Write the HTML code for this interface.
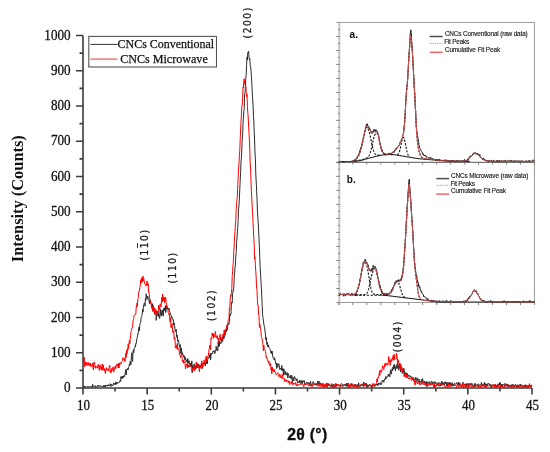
<!DOCTYPE html>
<html><head><meta charset="utf-8"><title>XRD</title>
<style>html,body{margin:0;padding:0;background:#fff;}svg{display:block;}</style>
</head><body>
<svg width="550" height="452" viewBox="0 0 550 452">
<rect width="550" height="452" fill="#fff"/>
<polyline fill="none" stroke="#2b2b2b" stroke-width="1" stroke-linejoin="round" points="83,387.29 83.4,387.68 83.8,387.25 84.2,385.86 84.6,387.7 85,387.32 85.4,386.47 85.8,387.41 86.2,387.21 86.6,387.14 87,386.9 87.4,387.33 87.8,386.22 88.2,386.7 88.6,386.41 89,387.32 89.4,386.83 89.8,386.53 90.2,386.09 90.6,386.53 91,386.75 91.4,386.49 91.8,387.7 92.2,387.58 92.6,384.32 93,385.02 93.4,386.5 93.8,386.27 94.2,386.82 94.6,386.81 95,387.7 95.4,385.6 95.8,386.24 96.2,387.7 96.6,387.12 97,387.12 97.4,386.06 97.8,385.04 98.2,386.65 98.6,386.58 99,385.38 99.4,385.85 99.8,386.38 100.2,385.59 100.6,386.33 101,386.49 101.4,386.42 101.8,385.92 102.2,386.89 102.6,387.15 103,386.61 103.4,385.55 103.8,386.94 104.2,385.79 104.6,387.03 105,385.21 105.4,387.01 105.8,386.11 106.2,384.92 106.6,385.73 107,386.02 107.4,386.16 107.8,384.89 108.2,384.69 108.6,385.87 109,385.15 109.4,385.75 109.8,386.19 110.2,383.71 110.6,385.53 111,386.42 111.4,384.78 111.8,384.15 112.2,385.67 112.6,385.04 113,385.61 113.4,384.17 113.8,382.82 114.2,384.16 114.6,383.65 115,384.86 115.4,384.06 115.8,381.83 116.2,382.13 116.6,384.34 117,383.9 117.4,382.11 117.8,382.63 118.2,382.91 118.6,382.66 119,382.86 119.4,381.71 119.8,380.87 120.2,380.23 120.6,381.61 121,376.52 121.4,379.03 121.8,378.79 122.2,376.11 122.6,378.22 123,376.11 123.4,377.89 123.8,375.66 124.2,376.31 124.6,376.58 125,374.46 125.4,371.52 125.8,369.61 126.2,374.88 126.6,370.72 127,368.89 127.4,369.77 127.8,368.36 128.2,369.69 128.6,367.24 129,366.35 129.4,363.92 129.8,365.51 130.2,361.2 130.6,363.85 131,364.62 131.4,356.29 131.8,352.75 132.2,358.41 132.6,361.41 133,351.81 133.4,349.82 133.8,352.67 134.2,348.04 134.6,347.47 135,346.49 135.4,347.14 135.8,343.56 136.2,343.63 136.6,341.01 137,337.76 137.4,337.1 137.8,333.67 138.2,333.8 138.6,329.1 139,327.06 139.4,330.85 139.8,325.38 140.2,323.38 140.6,322.66 141,318.5 141.4,316.94 141.8,316.5 142.2,314.29 142.6,309.19 143,312.08 143.4,307.17 143.8,304.5 144.2,303.33 144.6,303.04 145,306.31 145.4,298.6 145.8,300.41 146.2,293.78 146.6,297.63 147,299.27 147.4,296.73 147.8,296.02 148.2,298.29 148.6,299.72 149,300.03 149.4,303.62 149.8,300.44 150.2,299.7 150.6,301.98 151,303.36 151.4,304.97 151.8,305.7 152.2,307.06 152.6,303.69 153,310.3 153.4,307.89 153.8,307.29 154.2,312.19 154.6,314.42 155,313.13 155.4,312.96 155.8,311.05 156.2,320.4 156.6,316.39 157,312.27 157.4,313.55 157.8,315.89 158.2,312.34 158.6,316.39 159,314.87 159.4,318.54 159.8,317.62 160.2,308.79 160.6,314.68 161,310.39 161.4,316.2 161.8,313.59 162.2,314.05 162.6,309.87 163,315.98 163.4,315.85 163.8,308.16 164.2,310.88 164.6,307.92 165,308.92 165.4,305.64 165.8,312.53 166.2,305.82 166.6,307.33 167,309.34 167.4,307.07 167.8,308.52 168.2,308.39 168.6,310.04 169,308.31 169.4,310.69 169.8,312.01 170.2,312.61 170.6,314.48 171,314.73 171.4,318.24 171.8,316.93 172.2,318.56 172.6,318.58 173,320.16 173.4,319.75 173.8,325.26 174.2,322.97 174.6,325.5 175,329.7 175.4,331.48 175.8,331.3 176.2,329.19 176.6,336.35 177,337.51 177.4,335.21 177.8,341.78 178.2,339.91 178.6,340.42 179,344.64 179.4,345.35 179.8,347.47 180.2,344.47 180.6,353.44 181,348.96 181.4,347.83 181.8,353.77 182.2,352.46 182.6,354.91 183,354.22 183.4,355.67 183.8,357.16 184.2,355.63 184.6,359.64 185,357.69 185.4,357.42 185.8,360.22 186.2,361.63 186.6,360.6 187,359.64 187.4,363.46 187.8,358.55 188.2,360.61 188.6,363.37 189,360.66 189.4,364.06 189.8,364.22 190.2,366.6 190.6,363.05 191,364.04 191.4,366.43 191.8,360.93 192.2,372.87 192.6,365.28 193,365.49 193.4,368.98 193.8,367.3 194.2,363.85 194.6,368.78 195,369.22 195.4,366.52 195.8,366.81 196.2,368.3 196.6,365.35 197,368.01 197.4,367.41 197.8,365.48 198.2,363.87 198.6,366.16 199,364.68 199.4,368.45 199.8,366.52 200.2,367.69 200.6,366.16 201,366.24 201.4,363.81 201.8,366.68 202.2,368.84 202.6,364.11 203,363.24 203.4,363.92 203.8,362.93 204.2,362.16 204.6,363.69 205,362.39 205.4,365.86 205.8,362.23 206.2,362.52 206.6,363.52 207,360.19 207.4,363.73 207.8,358.52 208.2,357.65 208.6,358.2 209,358.29 209.4,354.84 209.8,357.49 210.2,353.23 210.6,359.75 211,355.85 211.4,354.05 211.8,352.92 212.2,353.62 212.6,353.47 213,351.07 213.4,350.83 213.8,351.99 214.2,350.7 214.6,353.52 215,353.45 215.4,350.34 215.8,350.86 216.2,346.17 216.6,350.18 217,348.12 217.4,348.78 217.8,350.81 218.2,341.34 218.6,346.63 219,342.92 219.4,346.21 219.8,341.23 220.2,342.5 220.6,343.48 221,343.77 221.4,341.87 221.8,339.17 222.2,338.99 222.6,341.53 223,338.67 223.4,333.93 223.8,338.82 224.2,336.87 224.6,336.92 225,333.12 225.4,334.76 225.8,329.39 226.2,332.13 226.6,328.67 227,330.28 227.4,329.9 227.8,324.65 228.2,324.85 228.6,323.48 229,324.26 229.4,321.07 229.8,314.37 230.2,315.83 230.6,313.87 231,314.2 231.4,302.45 231.8,301.95 232.2,303.07 232.6,293.71 233,290.78 233.4,291 233.8,287.6 234.2,277.83 234.6,274.26 235,267.39 235.4,265.01 235.8,255.99 236.2,252.67 236.6,242.5 237,238 237.4,231.69 237.8,227.73 238.2,219.43 238.6,209.19 239,205.22 239.4,198.08 239.8,188.49 240.2,180.41 240.6,172.69 241,161.33 241.4,157.77 241.8,150.07 242.2,139.89 242.6,136.09 243,123.76 243.4,118.25 243.8,111.15 244.2,109.73 244.6,94.61 245,92.52 245.4,86.3 245.8,78.26 246.2,74.13 246.6,64.29 247,57.12 247.4,60.09 247.8,52.42 248.2,52.82 248.6,51.11 249,57.58 249.4,59.31 249.8,58.44 250.2,65.34 250.6,66.88 251,70.44 251.4,76.41 251.8,82.32 252.2,91.32 252.6,97.97 253,103.91 253.4,115.2 253.8,120.23 254.2,131.41 254.6,140.97 255,153.03 255.4,158.66 255.8,174.27 256.2,181.05 256.6,190.22 257,198.45 257.4,209.98 257.8,216.94 258.2,222.19 258.6,229.87 259,238.9 259.4,246.45 259.8,258.62 260.2,267.66 260.6,274.95 261,282.09 261.4,288.24 261.8,296.72 262.2,305.35 262.6,314.75 263,317.88 263.4,319.91 263.8,324.08 264.2,325.75 264.6,327.52 265,331.07 265.4,333.96 265.8,339.66 266.2,337.37 266.6,342.07 267,344.59 267.4,342.17 267.8,347.05 268.2,346.27 268.6,344.87 269,347.59 269.4,348.14 269.8,348.61 270.2,349.7 270.6,351.46 271,353.07 271.4,350.94 271.8,353.82 272.2,351.18 272.6,356.1 273,357.74 273.4,357.46 273.8,358.51 274.2,359.96 274.6,357.81 275,359.5 275.4,361.93 275.8,363.72 276.2,362.99 276.6,368.44 277,363.17 277.4,366.16 277.8,367.3 278.2,364.85 278.6,363.95 279,363.74 279.4,367.06 279.8,369.5 280.2,368.27 280.6,368.55 281,367.93 281.4,370.25 281.8,365.46 282.2,370.5 282.6,370.55 283,368.35 283.4,375.4 283.8,369.21 284.2,370.2 284.6,370.39 285,374.91 285.4,371.73 285.8,374.83 286.2,375.02 286.6,374.78 287,372.43 287.4,373.93 287.8,378.04 288.2,373.4 288.6,374.44 289,375.8 289.4,377.63 289.8,376.98 290.2,378.01 290.6,375.41 291,378.79 291.4,378.44 291.8,375.36 292.2,380.36 292.6,381.69 293,377.32 293.4,378.76 293.8,380.93 294.2,376.94 294.6,376.43 295,377.63 295.4,378.86 295.8,379.03 296.2,380.86 296.6,380.55 297,378.63 297.4,381.27 297.8,383.18 298.2,382.39 298.6,382.24 299,381.08 299.4,382.47 299.8,380.02 300.2,382.38 300.6,381.39 301,383.07 301.4,382.31 301.8,380.43 302.2,382.08 302.6,383.55 303,380.69 303.4,381.5 303.8,381.34 304.2,380.53 304.6,383.64 305,384.14 305.4,383.59 305.8,382.99 306.2,382.71 306.6,383.13 307,382.05 307.4,384.05 307.8,384.29 308.2,384.22 308.6,382.56 309,383.34 309.4,383.11 309.8,385.44 310.2,383.63 310.6,381.3 311,383.98 311.4,385.73 311.8,384.41 312.2,384.68 312.6,383.77 313,381.55 313.4,381.79 313.8,382.48 314.2,383.78 314.6,384.31 315,384.77 315.4,383.67 315.8,385.15 316.2,383.83 316.6,383.4 317,385.15 317.4,383.25 317.8,381.32 318.2,383.17 318.6,384.46 319,381.06 319.4,384.04 319.8,384.1 320.2,382.95 320.6,382.93 321,384.04 321.4,383.98 321.8,385.93 322.2,385.01 322.6,382.96 323,383.75 323.4,385.42 323.8,386.7 324.2,385.13 324.6,385.07 325,386.72 325.4,384.76 325.8,384.48 326.2,383.35 326.6,384.31 327,387.13 327.4,383.41 327.8,384.92 328.2,383.46 328.6,385.07 329,385.88 329.4,384.73 329.8,385.75 330.2,385.75 330.6,385.49 331,386.8 331.4,385.86 331.8,384.76 332.2,384.39 332.6,384.24 333,385.6 333.4,384.8 333.8,387.7 334.2,387.03 334.6,384.95 335,384.85 335.4,386.91 335.8,383.3 336.2,384.76 336.6,386.19 337,384.32 337.4,384.77 337.8,384.9 338.2,385.93 338.6,385.41 339,385.69 339.4,385.89 339.8,385.33 340.2,386.42 340.6,384.58 341,383.88 341.4,383.54 341.8,383.71 342.2,384.78 342.6,386.37 343,385.52 343.4,384.76 343.8,384.29 344.2,384.84 344.6,384.97 345,384.81 345.4,383.96 345.8,384.91 346.2,386.4 346.6,383.24 347,385.16 347.4,383.3 347.8,385.6 348.2,384.68 348.6,383.36 349,385.53 349.4,387.23 349.8,385.55 350.2,386.59 350.6,385.38 351,383.32 351.4,385.94 351.8,385.05 352.2,384.02 352.6,386.24 353,385.75 353.4,384.95 353.8,386.33 354.2,384.62 354.6,386.12 355,384.56 355.4,386.01 355.8,384.4 356.2,386.96 356.6,385.74 357,386.91 357.4,384.69 357.8,385.03 358.2,386.33 358.6,382.8 359,384.45 359.4,386.52 359.8,385.96 360.2,386.46 360.6,385.19 361,386.06 361.4,384.78 361.8,384.15 362.2,383.83 362.6,384.96 363,384.96 363.4,384.88 363.8,382 364.2,383.53 364.6,384.98 365,385.78 365.4,384.93 365.8,384.64 366.2,383.23 366.6,387.49 367,384.42 367.4,387.16 367.8,387.04 368.2,385.77 368.6,384.94 369,385.63 369.4,384.36 369.8,385.76 370.2,385.5 370.6,386.02 371,386.44 371.4,387.21 371.8,385.12 372.2,386.53 372.6,384.71 373,384.59 373.4,384.85 373.8,384.46 374.2,386.37 374.6,386.28 375,386.59 375.4,385.24 375.8,385.49 376.2,384.56 376.6,383.91 377,385.48 377.4,385.23 377.8,383.73 378.2,385.41 378.6,382.86 379,384.37 379.4,383.69 379.8,383.58 380.2,382.7 380.6,384.71 381,383.98 381.4,384.4 381.8,382.8 382.2,380.66 382.6,381.41 383,379.95 383.4,381.69 383.8,382.31 384.2,380.72 384.6,379.03 385,378.94 385.4,379.37 385.8,376.55 386.2,378.49 386.6,378.12 387,376.5 387.4,376.2 387.8,376.64 388.2,374.52 388.6,373.99 389,376.16 389.4,374.74 389.8,376.79 390.2,371.68 390.6,369.8 391,374.25 391.4,373.88 391.8,370.33 392.2,368.49 392.6,370.68 393,366.95 393.4,369.16 393.8,365.1 394.2,368.43 394.6,364.24 395,367.58 395.4,370.74 395.8,366.77 396.2,368.59 396.6,365.41 397,364.67 397.4,363.24 397.8,368.43 398.2,366.1 398.6,369.68 399,364.07 399.4,366.39 399.8,367.45 400.2,370.66 400.6,372.02 401,367.73 401.4,367.45 401.8,366.98 402.2,373.42 402.6,371.32 403,370.81 403.4,372.34 403.8,368.2 404.2,370.04 404.6,375.05 405,374.39 405.4,374.25 405.8,372.56 406.2,375.54 406.6,377.8 407,373.01 407.4,375.33 407.8,374.82 408.2,376.36 408.6,376.02 409,375.98 409.4,375.01 409.8,376.6 410.2,375.86 410.6,376.8 411,377.12 411.4,378.42 411.8,376.7 412.2,377.29 412.6,379.59 413,377.82 413.4,377.94 413.8,379.79 414.2,379.09 414.6,379 415,379.36 415.4,377.42 415.8,380.03 416.2,381.41 416.6,380.51 417,377.67 417.4,380.39 417.8,378.89 418.2,379.97 418.6,380.59 419,378.93 419.4,382.46 419.8,380.69 420.2,381.94 420.6,381.83 421,382.86 421.4,382.73 421.8,379.32 422.2,381.38 422.6,378.63 423,380.89 423.4,382.46 423.8,382.78 424.2,383.33 424.6,381.26 425,382.22 425.4,382 425.8,383.53 426.2,383.99 426.6,381.61 427,386.84 427.4,382.17 427.8,381.78 428.2,383.03 428.6,383.28 429,383.07 429.4,381.65 429.8,384.3 430.2,382.62 430.6,384.47 431,384.34 431.4,381.16 431.8,381.56 432.2,381.59 432.6,383.13 433,382.94 433.4,383.24 433.8,381.99 434.2,383.51 434.6,384.7 435,381.5 435.4,382.88 435.8,383.44 436.2,383.03 436.6,382.99 437,385.32 437.4,384.78 437.8,384.31 438.2,382.46 438.6,385.97 439,383.82 439.4,382.77 439.8,383.07 440.2,382.92 440.6,385.95 441,383.77 441.4,383.63 441.8,381.12 442.2,384.45 442.6,382.42 443,382.37 443.4,384.37 443.8,382.71 444.2,384.66 444.6,385 445,381.73 445.4,383.62 445.8,382.02 446.2,383.74 446.6,384.85 447,382.32 447.4,385.88 447.8,383.53 448.2,382.57 448.6,383.77 449,384.81 449.4,382.41 449.8,383.96 450.2,382.45 450.6,385.33 451,384.18 451.4,383.55 451.8,385.18 452.2,382.63 452.6,383.63 453,386.12 453.4,383.96 453.8,385.6 454.2,384.33 454.6,383.36 455,383.88 455.4,384.24 455.8,383.72 456.2,383.28 456.6,383.34 457,382.59 457.4,384.34 457.8,384.66 458.2,385.06 458.6,382.29 459,385.15 459.4,384.26 459.8,382.74 460.2,384.41 460.6,385.2 461,384.89 461.4,385.12 461.8,385.37 462.2,385.33 462.6,384.33 463,382.14 463.4,383.58 463.8,384.79 464.2,383.91 464.6,385.17 465,385.3 465.4,384.5 465.8,386.48 466.2,383.43 466.6,385.48 467,383.99 467.4,383.67 467.8,385.15 468.2,383.87 468.6,385.46 469,383.31 469.4,384.6 469.8,383.68 470.2,384.34 470.6,384.2 471,383.41 471.4,385.31 471.8,383.31 472.2,383.6 472.6,385.59 473,385.69 473.4,385.38 473.8,385.04 474.2,387.1 474.6,383.43 475,383.94 475.4,383.69 475.8,385.68 476.2,385.05 476.6,385.92 477,385.79 477.4,384.55 477.8,383.94 478.2,383.77 478.6,387.12 479,385.83 479.4,385.45 479.8,384.49 480.2,384.65 480.6,384.51 481,384.54 481.4,382.39 481.8,384.83 482.2,384.51 482.6,385.21 483,385.14 483.4,385.81 483.8,384.93 484.2,385.77 484.6,382.32 485,383.84 485.4,386.76 485.8,383.74 486.2,384.71 486.6,385.73 487,384.11 487.4,385.77 487.8,383.57 488.2,383.08 488.6,383.69 489,383.37 489.4,385.05 489.8,384.75 490.2,385.42 490.6,384.04 491,387.69 491.4,385.02 491.8,385.08 492.2,385.59 492.6,384.89 493,384.51 493.4,385.24 493.8,386.1 494.2,385.85 494.6,386.13 495,384.62 495.4,384.41 495.8,387.23 496.2,384.97 496.6,385.7 497,385.97 497.4,386.67 497.8,383.89 498.2,384.77 498.6,384.83 499,384.97 499.4,382.86 499.8,385.19 500.2,382.39 500.6,385.6 501,385.85 501.4,385.91 501.8,384.12 502.2,386.29 502.6,384.48 503,384.12 503.4,384.38 503.8,384.52 504.2,385.54 504.6,386.2 505,383.29 505.4,384.85 505.8,386.29 506.2,385.61 506.6,385.92 507,383.94 507.4,386.37 507.8,383.89 508.2,385.64 508.6,386.8 509,387.32 509.4,385.97 509.8,386.35 510.2,384.88 510.6,385.02 511,386.65 511.4,385.5 511.8,385.38 512.2,384.13 512.6,385.67 513,386.16 513.4,384.76 513.8,385.05 514.2,387.1 514.6,385.73 515,385.28 515.4,384.46 515.8,384.97 516.2,385.34 516.6,386.93 517,385 517.4,387.35 517.8,384.7 518.2,385.26 518.6,386.44 519,385.39 519.4,384.82 519.8,385.51 520.2,386.08 520.6,383.98 521,385.41 521.4,385.55 521.8,385.27 522.2,386.39 522.6,385.13 523,385.33 523.4,385.73 523.8,386.4 524.2,385.49 524.6,387.17 525,384.83 525.4,386.96 525.8,384.89 526.2,385.57 526.6,386.08 527,387.7 527.4,386.61 527.8,385.36 528.2,387 528.6,385.55 529,385 529.4,386.2 529.8,385.86 530.2,386.69 530.6,385.26 531,386.15 531.4,386.4 531.8,386.06"/>
<polyline fill="none" stroke="#ff0000" stroke-width="1" stroke-linejoin="round" points="83,362.43 83.4,361 83.8,361.43 84.2,357.06 84.6,366.73 85,365.42 85.4,362.32 85.8,364.92 86.2,363.99 86.6,362.31 87,365.83 87.4,363.15 87.8,363.26 88.2,362.4 88.6,365.25 89,364.18 89.4,365.7 89.8,363.33 90.2,365.03 90.6,362.95 91,366.78 91.4,365.49 91.8,365.89 92.2,366.16 92.6,363.23 93,367.13 93.4,369.92 93.8,362.18 94.2,362.08 94.6,362.65 95,367.67 95.4,366.26 95.8,368.33 96.2,367.67 96.6,366.68 97,366.91 97.4,366.05 97.8,368.3 98.2,364.23 98.6,365.79 99,367.26 99.4,370.57 99.8,365.38 100.2,364.83 100.6,366 101,369.26 101.4,366.92 101.8,370.22 102.2,363.86 102.6,370.08 103,370.03 103.4,365.24 103.8,368.54 104.2,370.81 104.6,368.7 105,370.65 105.4,373.51 105.8,369.49 106.2,368.53 106.6,367.7 107,370.6 107.4,369.06 107.8,369.2 108.2,369.44 108.6,370.99 109,367.75 109.4,366.92 109.8,365.24 110.2,372.28 110.6,370.13 111,372.91 111.4,369.95 111.8,368.43 112.2,370.63 112.6,369.35 113,366.79 113.4,367.21 113.8,372.15 114.2,369.01 114.6,368.79 115,367.04 115.4,365.83 115.8,368.74 116.2,366.36 116.6,364.69 117,365.72 117.4,363.85 117.8,365.95 118.2,367.75 118.6,363.37 119,368.03 119.4,363.35 119.8,364.91 120.2,362.55 120.6,363.64 121,363.96 121.4,362.59 121.8,361.64 122.2,361.25 122.6,360.26 123,357.66 123.4,359.66 123.8,360.11 124.2,360.16 124.6,358.48 125,361.65 125.4,355.84 125.8,353.23 126.2,357.77 126.6,350.23 127,353.97 127.4,348.56 127.8,350.44 128.2,343.76 128.6,348.64 129,344.17 129.4,340.08 129.8,343.83 130.2,339.42 130.6,335.56 131,331.5 131.4,330.8 131.8,328.23 132.2,328.08 132.6,326.24 133,321.07 133.4,319.72 133.8,318.23 134.2,314.87 134.6,315.1 135,314.66 135.4,314.73 135.8,314.23 136.2,307.14 136.6,307.89 137,303.15 137.4,306.52 137.8,299.32 138.2,298.29 138.6,292.69 139,290.75 139.4,290.97 139.8,287.53 140.2,286.91 140.6,280.16 141,283.12 141.4,277.8 141.8,282.73 142.2,277.85 142.6,281.29 143,276.05 143.4,280.84 143.8,278.6 144.2,280.78 144.6,283.29 145,283.5 145.4,285.1 145.8,286.12 146.2,285.73 146.6,283.87 147,280.86 147.4,282.78 147.8,285.8 148.2,283.58 148.6,292.57 149,292.45 149.4,294.52 149.8,299.66 150.2,301.49 150.6,302.89 151,302.28 151.4,307.12 151.8,308.48 152.2,306.41 152.6,311.5 153,310.82 153.4,305.6 153.8,310.8 154.2,307.91 154.6,313.67 155,313.11 155.4,308.9 155.8,309.57 156.2,311.98 156.6,311.29 157,315.4 157.4,313.55 157.8,310.8 158.2,312.06 158.6,305.12 159,309.42 159.4,309.58 159.8,306.09 160.2,303.84 160.6,305.49 161,307.24 161.4,301.73 161.8,297.35 162.2,302.2 162.6,293.96 163,299.39 163.4,297.11 163.8,300.93 164.2,297.25 164.6,302.74 165,301.06 165.4,297.2 165.8,297.55 166.2,302.38 166.6,307.16 167,305.77 167.4,307.17 167.8,308.17 168.2,312.19 168.6,313.14 169,314.64 169.4,313.41 169.8,320.11 170.2,322.23 170.6,317.84 171,327.86 171.4,325.98 171.8,324.94 172.2,323.45 172.6,331.15 173,332.74 173.4,331.91 173.8,330.94 174.2,339.36 174.6,337.05 175,338.91 175.4,348.11 175.8,347.98 176.2,346.75 176.6,344.89 177,348.7 177.4,343.12 177.8,349.7 178.2,348.75 178.6,348.52 179,348.79 179.4,354.54 179.8,354.42 180.2,355.44 180.6,357.85 181,354.8 181.4,354.73 181.8,354.31 182.2,358.48 182.6,361.87 183,360.64 183.4,363.28 183.8,359.98 184.2,362.31 184.6,362.31 185,361.8 185.4,368.93 185.8,367.2 186.2,364.2 186.6,364.61 187,366.46 187.4,363.93 187.8,368.08 188.2,364.78 188.6,366.83 189,365.61 189.4,366.76 189.8,365.08 190.2,364.63 190.6,365.89 191,366.51 191.4,367.31 191.8,368.07 192.2,371.03 192.6,369.61 193,367.47 193.4,369.45 193.8,366.61 194.2,370.92 194.6,369.09 195,365.2 195.4,369.38 195.8,369.41 196.2,362.19 196.6,365.98 197,366.4 197.4,363.27 197.8,364.88 198.2,364.97 198.6,367.82 199,367.22 199.4,371.88 199.8,365.38 200.2,368.4 200.6,365.9 201,366.04 201.4,362.71 201.8,360.78 202.2,362.88 202.6,365.79 203,367.13 203.4,364.47 203.8,363.67 204.2,360.04 204.6,364.81 205,363.71 205.4,358.71 205.8,359.12 206.2,356.24 206.6,361.2 207,358.08 207.4,356.23 207.8,356.63 208.2,355.86 208.6,352.91 209,349.79 209.4,348.04 209.8,345.02 210.2,347.95 210.6,349.85 211,338.06 211.4,339.25 211.8,337.44 212.2,333.24 212.6,335.97 213,332.98 213.4,338.26 213.8,334.13 214.2,335.73 214.6,337.07 215,334.51 215.4,331.47 215.8,334.7 216.2,338.19 216.6,336.83 217,338.13 217.4,335.59 217.8,338.69 218.2,340.07 218.6,338.44 219,342.66 219.4,337.68 219.8,335.62 220.2,334.12 220.6,340.29 221,337.29 221.4,339.53 221.8,337.92 222.2,340.12 222.6,338.68 223,334.19 223.4,334.93 223.8,336.03 224.2,329.94 224.6,335.41 225,334.17 225.4,332.93 225.8,329.43 226.2,329.71 226.6,325.43 227,326.92 227.4,323.98 227.8,323.79 228.2,320.42 228.6,319.62 229,318.19 229.4,308.45 229.8,309.49 230.2,298.98 230.6,295.13 231,296.29 231.4,292.59 231.8,288.72 232.2,276.65 232.6,271.78 233,264.94 233.4,260.73 233.8,251.03 234.2,246.02 234.6,236.06 235,231.25 235.4,224.08 235.8,220.16 236.2,209.65 236.6,203.27 237,199.57 237.4,195.17 237.8,184.55 238.2,176.87 238.6,167.83 239,163.6 239.4,154.9 239.8,150.32 240.2,139.62 240.6,129.13 241,122.51 241.4,114.25 241.8,106.68 242.2,105.95 242.6,98.68 243,87.09 243.4,88.01 243.8,81.22 244.2,78.76 244.6,83.52 245,84.72 245.4,85.35 245.8,85.19 246.2,92.7 246.6,96.72 247,94.07 247.4,106.22 247.8,112.52 248.2,117.1 248.6,126.15 249,133.29 249.4,140.13 249.8,150.18 250.2,163.91 250.6,167.7 251,181.8 251.4,191.48 251.8,198.37 252.2,207.16 252.6,212.76 253,221.53 253.4,230.79 253.8,238.59 254.2,242.75 254.6,258.76 255,257.32 255.4,265.79 255.8,271.73 256.2,277.95 256.6,288.27 257,290.31 257.4,300.3 257.8,305.31 258.2,305.43 258.6,315.01 259,315.5 259.4,327.42 259.8,324.25 260.2,326.77 260.6,328 261,332.43 261.4,336.53 261.8,337.75 262.2,339.26 262.6,342.38 263,345.27 263.4,350.73 263.8,345.02 264.2,349.11 264.6,349.53 265,349.5 265.4,351.26 265.8,353.22 266.2,358.03 266.6,356.98 267,357.19 267.4,360.81 267.8,360.99 268.2,360.74 268.6,362.99 269,361.12 269.4,365.14 269.8,365.54 270.2,364.38 270.6,363.4 271,369.77 271.4,367.44 271.8,374.01 272.2,367.1 272.6,370.61 273,368.59 273.4,370.41 273.8,371.99 274.2,369.36 274.6,371.14 275,372.06 275.4,372.4 275.8,373.69 276.2,374.85 276.6,374.89 277,374.26 277.4,373.58 277.8,372.62 278.2,373.66 278.6,374.36 279,376.71 279.4,375.31 279.8,374.22 280.2,377.54 280.6,375.57 281,375.94 281.4,377.07 281.8,378.42 282.2,374.31 282.6,376.56 283,378.76 283.4,378.22 283.8,377.74 284.2,378.47 284.6,381.47 285,379.1 285.4,380.99 285.8,381.33 286.2,379.88 286.6,381.34 287,380.39 287.4,380.42 287.8,380 288.2,382.82 288.6,381.42 289,381.45 289.4,380.96 289.8,384.77 290.2,383.65 290.6,382.79 291,382.31 291.4,381.51 291.8,383.79 292.2,383.92 292.6,382.13 293,385.15 293.4,384.81 293.8,382.97 294.2,383.49 294.6,383.69 295,384.38 295.4,384.07 295.8,382.47 296.2,385.89 296.6,384.65 297,385.7 297.4,385.72 297.8,384.16 298.2,384.77 298.6,385.22 299,385.28 299.4,384.29 299.8,383.83 300.2,384.54 300.6,383.67 301,383.95 301.4,382.4 301.8,384.67 302.2,383.5 302.6,384.02 303,384.57 303.4,384.97 303.8,386.65 304.2,384.88 304.6,383.18 305,384.83 305.4,384.07 305.8,385.13 306.2,384 306.6,383.99 307,384.21 307.4,384.1 307.8,382.86 308.2,384.08 308.6,384.77 309,386.05 309.4,384.5 309.8,384.43 310.2,385.43 310.6,385.4 311,386.51 311.4,385.46 311.8,384.84 312.2,386.26 312.6,386.47 313,384.39 313.4,385.06 313.8,383.16 314.2,384.54 314.6,384.01 315,384.71 315.4,384.45 315.8,384.78 316.2,384.86 316.6,385.48 317,385.22 317.4,384.42 317.8,383.68 318.2,386.29 318.6,386.48 319,384.57 319.4,385.63 319.8,383.5 320.2,383.48 320.6,384.81 321,386.6 321.4,384.04 321.8,384.27 322.2,386.77 322.6,383.22 323,385.81 323.4,385.67 323.8,384.97 324.2,385.39 324.6,387.7 325,384.08 325.4,384.91 325.8,385 326.2,384.56 326.6,383.92 327,386.88 327.4,385.51 327.8,383.54 328.2,384.61 328.6,385.73 329,385.74 329.4,383.9 329.8,385.26 330.2,385.62 330.6,385.76 331,385.77 331.4,383.58 331.8,387.24 332.2,385.62 332.6,387.21 333,387.7 333.4,385.27 333.8,384.22 334.2,386.3 334.6,385.28 335,385.01 335.4,384.45 335.8,387.14 336.2,385.04 336.6,384.1 337,385.04 337.4,384.35 337.8,385.65 338.2,385.08 338.6,384.45 339,386.09 339.4,384.87 339.8,386.21 340.2,386.74 340.6,385.14 341,384.86 341.4,385.7 341.8,386.38 342.2,385.5 342.6,385.64 343,385.47 343.4,385.81 343.8,386.12 344.2,384.8 344.6,385.02 345,385.54 345.4,384.84 345.8,385.63 346.2,386.03 346.6,385.48 347,384.91 347.4,384.73 347.8,387.22 348.2,386.37 348.6,384.4 349,384.67 349.4,387.35 349.8,386.99 350.2,385.63 350.6,386.64 351,384.04 351.4,385.5 351.8,386.23 352.2,383.67 352.6,384.73 353,386.27 353.4,386.61 353.8,384.92 354.2,385.79 354.6,387.08 355,385.12 355.4,384.19 355.8,385.44 356.2,385.11 356.6,386.78 357,385.66 357.4,384.71 357.8,387.7 358.2,385.01 358.6,385.97 359,386.17 359.4,386.27 359.8,385.67 360.2,386.08 360.6,385.43 361,384.1 361.4,385.28 361.8,385.3 362.2,385.32 362.6,385.63 363,384.88 363.4,386.8 363.8,387.04 364.2,383.33 364.6,385.51 365,384.8 365.4,382.93 365.8,385.9 366.2,384.89 366.6,385.13 367,384.86 367.4,386.57 367.8,386.72 368.2,385.77 368.6,386.18 369,385.39 369.4,385.64 369.8,384.77 370.2,385.53 370.6,384.79 371,385.85 371.4,386.29 371.8,385.76 372.2,386.6 372.6,387.7 373,383.27 373.4,385.34 373.8,384.71 374.2,384.76 374.6,383.79 375,385.15 375.4,384.75 375.8,384.1 376.2,383.74 376.6,382.23 377,378.71 377.4,381.99 377.8,379.07 378.2,377.05 378.6,377.85 379,375.18 379.4,371.46 379.8,375.5 380.2,369.83 380.6,371.34 381,370.94 381.4,372.36 381.8,371.22 382.2,368.42 382.6,365.88 383,366.04 383.4,368.67 383.8,369.69 384.2,366.65 384.6,363.71 385,366.92 385.4,363.52 385.8,363.1 386.2,363.04 386.6,364.64 387,363.64 387.4,364.94 387.8,365.33 388.2,363.28 388.6,356.52 389,357.63 389.4,361.54 389.8,360.68 390.2,365.43 390.6,360.03 391,359.37 391.4,361.53 391.8,361.44 392.2,358.11 392.6,359.41 393,355.41 393.4,355.57 393.8,360.34 394.2,354.07 394.6,359.27 395,358.61 395.4,358.77 395.8,359.2 396.2,358.82 396.6,353.28 397,356.77 397.4,358.71 397.8,363.28 398.2,359.73 398.6,361.74 399,363.41 399.4,367.87 399.8,362.92 400.2,364.08 400.6,369.08 401,364.54 401.4,370.31 401.8,369.68 402.2,368.43 402.6,371.36 403,371 403.4,373.66 403.8,374.45 404.2,376.8 404.6,374.62 405,375.19 405.4,374.41 405.8,375.67 406.2,377.73 406.6,373.23 407,377.67 407.4,376.05 407.8,377.27 408.2,377.91 408.6,378.96 409,378.25 409.4,377.53 409.8,378.81 410.2,378.58 410.6,378.48 411,379.3 411.4,380.48 411.8,379.64 412.2,379.88 412.6,378.08 413,379.92 413.4,377.76 413.8,381.51 414.2,379.48 414.6,382.68 415,385.1 415.4,380.84 415.8,383.27 416.2,382.26 416.6,381.23 417,381.06 417.4,382.99 417.8,384.17 418.2,383.04 418.6,380.94 419,381.66 419.4,382.77 419.8,384.75 420.2,383.6 420.6,383.75 421,384.86 421.4,383.3 421.8,383.5 422.2,383.45 422.6,381.7 423,384.29 423.4,384.28 423.8,384.97 424.2,382.59 424.6,383.06 425,385.06 425.4,384.42 425.8,385.63 426.2,383.21 426.6,384.42 427,383.5 427.4,384.62 427.8,383.79 428.2,384.94 428.6,385.56 429,385.16 429.4,382.53 429.8,385.51 430.2,385.02 430.6,383.46 431,383.66 431.4,384.64 431.8,385.27 432.2,384.22 432.6,383.01 433,385.04 433.4,384.95 433.8,387.35 434.2,383.48 434.6,387.48 435,386.69 435.4,385.21 435.8,386.64 436.2,385.04 436.6,385.97 437,384.23 437.4,385.09 437.8,383.98 438.2,383.43 438.6,384.79 439,384.41 439.4,385.68 439.8,386.41 440.2,384.96 440.6,385.21 441,385.36 441.4,383.48 441.8,385.47 442.2,385.23 442.6,385.18 443,384.14 443.4,383.27 443.8,385.02 444.2,385.61 444.6,386.65 445,386.45 445.4,386.79 445.8,385.72 446.2,386.51 446.6,385.17 447,386.01 447.4,386.33 447.8,387.7 448.2,385.67 448.6,384.18 449,386.82 449.4,384.69 449.8,385.42 450.2,385.2 450.6,384.61 451,386.83 451.4,386.11 451.8,384.94 452.2,385.62 452.6,385.14 453,386.17 453.4,385.21 453.8,384.85 454.2,384.98 454.6,385.19 455,385.91 455.4,384.74 455.8,385.56 456.2,386.09 456.6,387.7 457,386.51 457.4,382.8 457.8,385.2 458.2,385.32 458.6,386.02 459,387.24 459.4,386.44 459.8,383.52 460.2,386.04 460.6,385.86 461,386.16 461.4,387.07 461.8,384.73 462.2,386.84 462.6,384.21 463,385.85 463.4,386.17 463.8,387.7 464.2,385.15 464.6,384.21 465,386.49 465.4,385.21 465.8,387.34 466.2,385.18 466.6,385.02 467,387.05 467.4,385.95 467.8,386.83 468.2,384.52 468.6,387.45 469,385.33 469.4,386.67 469.8,384.94 470.2,384.43 470.6,385.66 471,386.08 471.4,387.41 471.8,386.25 472.2,386.6 472.6,386.55 473,387.7 473.4,385.16 473.8,387.13 474.2,385.8 474.6,386.2 475,385.44 475.4,387.05 475.8,384.78 476.2,384.72 476.6,385.78 477,384.88 477.4,386.64 477.8,386.85 478.2,385.28 478.6,386.73 479,385.37 479.4,385.96 479.8,386.01 480.2,387.7 480.6,386.01 481,385.16 481.4,385.16 481.8,387.15 482.2,384.46 482.6,385.59 483,385.68 483.4,383.75 483.8,385.6 484.2,386.98 484.6,386.27 485,385.21 485.4,386.7 485.8,386.54 486.2,387.7 486.6,385.38 487,385.71 487.4,386.11 487.8,385.95 488.2,386.16 488.6,385.99 489,385.44 489.4,384.6 489.8,385.58 490.2,384.81 490.6,385.13 491,385.6 491.4,386.58 491.8,386.9 492.2,385.15 492.6,386.4 493,386.86 493.4,386.07 493.8,384.6 494.2,384.12 494.6,386.86 495,386.97 495.4,386.38 495.8,385.15 496.2,387.47 496.6,387.26 497,386.09 497.4,385.93 497.8,384.33 498.2,386.84 498.6,384.66 499,386.78 499.4,386.82 499.8,386.24 500.2,387.61 500.6,385.86 501,386.71 501.4,386.9 501.8,386.4 502.2,385.78 502.6,387.31 503,386.56 503.4,386 503.8,386.03 504.2,386.3 504.6,387.7 505,386.29 505.4,385.97 505.8,385.22 506.2,385.08 506.6,384.46 507,386.42 507.4,386.23 507.8,385.26 508.2,384.84 508.6,385.91 509,385.73 509.4,384.99 509.8,386.49 510.2,386.35 510.6,386.17 511,386.93 511.4,385.62 511.8,387.47 512.2,385.3 512.6,386.7 513,386.81 513.4,385.99 513.8,386.55 514.2,385.06 514.6,384.86 515,386.05 515.4,385.57 515.8,386.78 516.2,386.27 516.6,386.8 517,386.53 517.4,386.43 517.8,386.33 518.2,385.91 518.6,385.82 519,387.7 519.4,384.64 519.8,386.08 520.2,387.17 520.6,386.64 521,387.54 521.4,386.76 521.8,385.1 522.2,385.96 522.6,384.98 523,387.16 523.4,387.57 523.8,385.86 524.2,386.75 524.6,385.88 525,384.95 525.4,385.85 525.8,384.82 526.2,385.74 526.6,386.45 527,386.92 527.4,387.44 527.8,385.96 528.2,386.47 528.6,386.64 529,386.76 529.4,383.66 529.8,385.55 530.2,386.98 530.6,385.24 531,386.48 531.4,387.01 531.8,384.53"/>
<path d="M83.0,35.5V388.0H532.0 M76,388H83.0 M76,352.75H83.0 M76,317.5H83.0 M76,282.25H83.0 M76,247H83.0 M76,211.75H83.0 M76,176.5H83.0 M76,141.25H83.0 M76,106H83.0 M76,70.75H83.0 M76,35.5H83.0 M79.5,370.38H83.0 M79.5,335.12H83.0 M79.5,299.88H83.0 M79.5,264.62H83.0 M79.5,229.38H83.0 M79.5,194.12H83.0 M79.5,158.88H83.0 M79.5,123.62H83.0 M79.5,88.38H83.0 M79.5,53.12H83.0 M83,388.0V394.6 M147.14,388.0V394.6 M211.29,388.0V394.6 M275.43,388.0V394.6 M339.57,388.0V394.6 M403.71,388.0V394.6 M467.86,388.0V394.6 M532,388.0V394.6 M115.07,388.0V391.4 M179.21,388.0V391.4 M243.36,388.0V391.4 M307.5,388.0V391.4 M371.64,388.0V391.4 M435.79,388.0V391.4 M499.93,388.0V391.4" stroke="#3c3c3c" stroke-width="1.6" fill="none"/>
<g transform="scale(0.9,1)">
<text x="78.44" y="392.1" text-anchor="end" font-family="Liberation Serif, serif" font-size="14.6" fill="#111" stroke="#111" stroke-width="0.3">0</text>
<text x="78.44" y="356.85" text-anchor="end" font-family="Liberation Serif, serif" font-size="14.6" fill="#111" stroke="#111" stroke-width="0.3">100</text>
<text x="78.44" y="321.6" text-anchor="end" font-family="Liberation Serif, serif" font-size="14.6" fill="#111" stroke="#111" stroke-width="0.3">200</text>
<text x="78.44" y="286.35" text-anchor="end" font-family="Liberation Serif, serif" font-size="14.6" fill="#111" stroke="#111" stroke-width="0.3">300</text>
<text x="78.44" y="251.1" text-anchor="end" font-family="Liberation Serif, serif" font-size="14.6" fill="#111" stroke="#111" stroke-width="0.3">400</text>
<text x="78.44" y="215.85" text-anchor="end" font-family="Liberation Serif, serif" font-size="14.6" fill="#111" stroke="#111" stroke-width="0.3">500</text>
<text x="78.44" y="180.6" text-anchor="end" font-family="Liberation Serif, serif" font-size="14.6" fill="#111" stroke="#111" stroke-width="0.3">600</text>
<text x="78.44" y="145.35" text-anchor="end" font-family="Liberation Serif, serif" font-size="14.6" fill="#111" stroke="#111" stroke-width="0.3">700</text>
<text x="78.44" y="110.1" text-anchor="end" font-family="Liberation Serif, serif" font-size="14.6" fill="#111" stroke="#111" stroke-width="0.3">800</text>
<text x="78.44" y="74.85" text-anchor="end" font-family="Liberation Serif, serif" font-size="14.6" fill="#111" stroke="#111" stroke-width="0.3">900</text>
<text x="78.44" y="39.6" text-anchor="end" font-family="Liberation Serif, serif" font-size="14.6" fill="#111" stroke="#111" stroke-width="0.3">1000</text>
</g>
<g transform="scale(0.86,1)">
<text x="97.21" y="409.8" text-anchor="middle" font-family="Liberation Serif, serif" font-size="15.1" fill="#111" stroke="#111" stroke-width="0.3">10</text>
<text x="171.79" y="409.8" text-anchor="middle" font-family="Liberation Serif, serif" font-size="15.1" fill="#111" stroke="#111" stroke-width="0.3">15</text>
<text x="246.38" y="409.8" text-anchor="middle" font-family="Liberation Serif, serif" font-size="15.1" fill="#111" stroke="#111" stroke-width="0.3">20</text>
<text x="320.96" y="409.8" text-anchor="middle" font-family="Liberation Serif, serif" font-size="15.1" fill="#111" stroke="#111" stroke-width="0.3">25</text>
<text x="395.55" y="409.8" text-anchor="middle" font-family="Liberation Serif, serif" font-size="15.1" fill="#111" stroke="#111" stroke-width="0.3">30</text>
<text x="470.13" y="409.8" text-anchor="middle" font-family="Liberation Serif, serif" font-size="15.1" fill="#111" stroke="#111" stroke-width="0.3">35</text>
<text x="544.72" y="409.8" text-anchor="middle" font-family="Liberation Serif, serif" font-size="15.1" fill="#111" stroke="#111" stroke-width="0.3">40</text>
<text x="619.3" y="409.8" text-anchor="middle" font-family="Liberation Serif, serif" font-size="15.1" fill="#111" stroke="#111" stroke-width="0.3">45</text>
</g>
<text transform="translate(22.7,262.2) rotate(-90)" x="0" y="0" font-family="Liberation Serif, serif" font-weight="bold" font-size="16.6" fill="#111" textLength="127" lengthAdjust="spacingAndGlyphs">Intensity (Counts)</text>
<text x="287.2" y="439.8" font-family="Liberation Sans, sans-serif" font-weight="bold" font-size="15.8" fill="#111" stroke="#111" stroke-width="0.35" textLength="40" lengthAdjust="spacing">2θ (°)</text>
<rect x="88.8" y="36.4" width="127.7" height="30.6" fill="none" stroke="#555" stroke-width="1.1"/>
<line x1="90.4" y1="44.4" x2="117.5" y2="44.4" stroke="#333" stroke-width="1"/>
<line x1="90.4" y1="59.1" x2="117.5" y2="59.1" stroke="#f07f7f" stroke-width="1.6"/>
<text x="117.6" y="48.4" font-family="Liberation Serif, serif" font-size="12.5" fill="#111" stroke="#111" stroke-width="0.25" textLength="96.6" lengthAdjust="spacingAndGlyphs">CNCs Conventional</text>
<text x="120.2" y="62.7" font-family="Liberation Serif, serif" font-size="12.5" fill="#111" stroke="#111" stroke-width="0.25" textLength="87.6" lengthAdjust="spacingAndGlyphs">CNCs Microwave</text>
<text transform="translate(147.6,260.6) rotate(-90)" font-family="DejaVu Sans Condensed, DejaVu Sans, sans-serif" font-stretch="condensed" font-size="10.1" fill="#1a1a1a" stroke="#1a1a1a" stroke-width="0.25" lengthAdjust="spacing" textLength="30.6">(110)</text>
<text transform="translate(144.6,245.6) rotate(-90)" text-anchor="middle" font-family="DejaVu Sans Condensed, DejaVu Sans, sans-serif" font-stretch="condensed" font-size="10.1" fill="#1a1a1a" stroke="#1a1a1a" stroke-width="0.25">&#x203E;</text>
<text transform="translate(175.9,283.5) rotate(-90)" font-family="DejaVu Sans Condensed, DejaVu Sans, sans-serif" font-stretch="condensed" font-size="10.1" fill="#1a1a1a" stroke="#1a1a1a" stroke-width="0.25" lengthAdjust="spacing" textLength="30.6">(110)</text>
<text transform="translate(214.6,321) rotate(-90)" font-family="DejaVu Sans Condensed, DejaVu Sans, sans-serif" font-stretch="condensed" font-size="10.1" fill="#1a1a1a" stroke="#1a1a1a" stroke-width="0.25" lengthAdjust="spacing" textLength="30.6">(102)</text>
<text transform="translate(251.2,38.4) rotate(-90)" font-family="DejaVu Sans Condensed, DejaVu Sans, sans-serif" font-stretch="condensed" font-size="10.1" fill="#1a1a1a" stroke="#1a1a1a" stroke-width="0.25" lengthAdjust="spacing" textLength="30.6">(200)</text>
<text transform="translate(401.1,352.3) rotate(-90)" font-family="DejaVu Sans Condensed, DejaVu Sans, sans-serif" font-stretch="condensed" font-size="10.1" fill="#1a1a1a" stroke="#1a1a1a" stroke-width="0.25" lengthAdjust="spacing" textLength="30.6">(004)</text>
<rect x="338.9" y="22.5" width="195.5" height="280.0" fill="#fff"/>
<line x1="339.3" y1="22.5" x2="339.3" y2="305" stroke="#c4c4c4" stroke-width="2"/>
<line x1="336.1" y1="22.4" x2="534.4" y2="22.4" stroke="#9a9a9a" stroke-width="1"/>
<line x1="534.4" y1="22.4" x2="534.4" y2="302.5" stroke="#9a9a9a" stroke-width="1"/>
<line x1="336.1" y1="162.3" x2="534.4" y2="162.3" stroke="#555" stroke-width="1"/>
<line x1="336.1" y1="302.5" x2="534.4" y2="302.5" stroke="#9a9a9a" stroke-width="1"/>
<path d="M338.9,162.3v2.3 M338.9,302.5v2.6 M352.86,162.3v2.3 M352.86,302.5v2.6 M366.83,162.3v2.3 M366.83,302.5v2.6 M380.79,162.3v2.3 M380.79,302.5v2.6 M394.76,162.3v2.3 M394.76,302.5v2.6 M408.72,162.3v2.3 M408.72,302.5v2.6 M422.69,162.3v2.3 M422.69,302.5v2.6 M436.65,162.3v2.3 M436.65,302.5v2.6 M450.61,162.3v2.3 M450.61,302.5v2.6 M464.58,162.3v2.3 M464.58,302.5v2.6 M478.54,162.3v2.3 M478.54,302.5v2.6 M492.51,162.3v2.3 M492.51,302.5v2.6 M506.47,162.3v2.3 M506.47,302.5v2.6 M520.44,162.3v2.3 M520.44,302.5v2.6 M534.4,162.3v2.3 M534.4,302.5v2.6 M337.9,29.49H339.6 M337.9,169.31H339.6 M336.2,36.48H339.6 M336.2,176.32H339.6 M337.9,43.47H339.6 M337.9,183.33H339.6 M336.2,50.46H339.6 M336.2,190.34H339.6 M337.9,57.45H339.6 M337.9,197.35H339.6 M336.2,64.44H339.6 M336.2,204.36H339.6 M337.9,71.43H339.6 M337.9,211.37H339.6 M336.2,78.42H339.6 M336.2,218.38H339.6 M337.9,85.41H339.6 M337.9,225.39H339.6 M336.2,92.4H339.6 M336.2,232.4H339.6 M337.9,99.39H339.6 M337.9,239.41H339.6 M336.2,106.38H339.6 M336.2,246.42H339.6 M337.9,113.37H339.6 M337.9,253.43H339.6 M336.2,120.36H339.6 M336.2,260.44H339.6 M337.9,127.35H339.6 M337.9,267.45H339.6 M336.2,134.34H339.6 M336.2,274.46H339.6 M337.9,141.33H339.6 M337.9,281.47H339.6 M336.2,148.32H339.6 M336.2,288.48H339.6 M337.9,155.31H339.6 M337.9,295.49H339.6" stroke="#666" stroke-width="0.8" fill="none"/>
<polyline fill="none" stroke="#2a2a2a" stroke-width="1.1" points="351.15,161.5 351.4,161.5 351.65,161.5 351.9,161.5 352.15,161.49 352.4,161.49 352.65,161.48 352.9,161.47 353.15,161.46 353.4,161.44 353.65,161.42 353.9,161.41 354.15,161.39 354.4,161.36 354.65,161.34 354.9,161.31 355.15,161.29 355.4,161.26 355.65,161.23 355.9,161.2 356.15,161.17 356.4,161.14 356.65,161.1 356.9,161.07 357.15,161.03 357.4,161 357.65,160.96 357.9,160.92 358.15,160.89 358.4,160.85 358.65,160.81 358.9,160.77 359.15,160.73 359.4,160.69 359.65,160.65 359.9,160.62 360.15,160.58 360.4,160.53 360.65,160.49 360.9,160.44 361.15,160.38 361.4,160.33 361.65,160.27 361.9,160.2 362.15,160.14 362.4,160.07 362.65,160 362.9,159.93 363.15,159.86 363.4,159.79 363.65,159.71 363.9,159.64 364.15,159.56 364.4,159.49 364.65,159.41 364.9,159.33 365.15,159.26 365.4,159.18 365.65,159.11 365.9,159.03 366.15,158.96 366.4,158.89 366.65,158.82 366.9,158.75 367.15,158.69 367.4,158.62 367.65,158.56 367.9,158.49 368.15,158.42 368.4,158.36 368.65,158.29 368.9,158.22 369.15,158.15 369.4,158.09 369.65,158.02 369.9,157.95 370.15,157.88 370.4,157.81 370.65,157.75 370.9,157.68 371.15,157.61 371.4,157.54 371.65,157.47 371.9,157.41 372.15,157.34 372.4,157.27 372.65,157.21 372.9,157.14 373.15,157.08 373.4,157.01 373.65,156.95 373.9,156.88 374.15,156.82 374.4,156.76 374.65,156.69 374.9,156.63 375.15,156.57 375.4,156.51 375.65,156.45 375.9,156.39 376.15,156.33 376.4,156.28 376.65,156.22 376.9,156.17 377.15,156.11 377.4,156.06 377.65,156.01 377.9,155.96 378.15,155.91 378.4,155.86 378.65,155.81 378.9,155.76 379.15,155.71 379.4,155.66 379.65,155.6 379.9,155.55 380.15,155.5 380.4,155.44 380.65,155.39 380.9,155.33 381.15,155.28 381.4,155.23 381.65,155.18 381.9,155.13 382.15,155.07 382.4,155.03 382.65,154.98 382.9,154.93 383.15,154.89 383.4,154.84 383.65,154.8 383.9,154.76 384.15,154.72 384.4,154.69 384.65,154.66 384.9,154.63 385.15,154.6 385.4,154.58 385.65,154.55 385.9,154.54 386.15,154.52 386.4,154.51 386.65,154.5 386.9,154.5 387.15,154.5 387.4,154.5 387.65,154.5 387.9,154.5 388.15,154.51 388.4,154.51 388.65,154.52 388.9,154.52 389.15,154.53 389.4,154.53 389.65,154.54 389.9,154.54 390.15,154.55 390.4,154.56 390.65,154.57 390.9,154.58 391.15,154.59 391.4,154.6 391.65,154.61 391.9,154.62 392.15,154.63 392.4,154.64 392.65,154.65 392.9,154.66 393.15,154.67 393.4,154.69 393.65,154.7 393.9,154.71 394.15,154.73 394.4,154.75 394.65,154.77 394.9,154.8 395.15,154.82 395.4,154.85 395.65,154.89 395.9,154.92 396.15,154.96 396.4,155 396.65,155.04 396.9,155.08 397.15,155.12 397.4,155.16 397.65,155.2 397.9,155.25 398.15,155.29 398.4,155.33 398.65,155.38 398.9,155.42 399.15,155.46 399.4,155.5 399.65,155.54 399.9,155.58 400.15,155.62 400.4,155.66 400.65,155.7 400.9,155.74 401.15,155.78 401.4,155.82 401.65,155.86 401.9,155.91 402.15,155.95 402.4,155.99 402.65,156.03 402.9,156.08 403.15,156.12 403.4,156.16 403.65,156.21 403.9,156.25 404.15,156.29 404.4,156.34 404.65,156.38 404.9,156.43 405.15,156.47 405.4,156.51 405.65,156.56 405.9,156.6 406.15,156.65 406.4,156.69 406.65,156.73 406.9,156.78 407.15,156.82 407.4,156.87 407.65,156.91 407.9,156.95 408.15,156.99 408.4,157.04 408.65,157.08 408.9,157.12 409.15,157.16 409.4,157.2 409.65,157.24 409.9,157.28 410.15,157.32 410.4,157.36 410.65,157.4 410.9,157.45 411.15,157.49 411.4,157.53 411.65,157.57 411.9,157.61 412.15,157.65 412.4,157.69 412.65,157.73 412.9,157.77 413.15,157.82 413.4,157.86 413.65,157.9 413.9,157.94 414.15,157.98 414.4,158.02 414.65,158.06 414.9,158.1 415.15,158.14 415.4,158.18 415.65,158.22 415.9,158.26 416.15,158.29 416.4,158.33 416.65,158.37 416.9,158.41 417.15,158.44 417.4,158.48 417.65,158.51 417.9,158.55 418.15,158.58 418.4,158.61 418.65,158.64 418.9,158.67 419.15,158.7 419.4,158.73 419.65,158.76 419.9,158.79 420.15,158.82 420.4,158.84 420.65,158.87 420.9,158.89 421.15,158.92 421.4,158.94 421.65,158.97 421.9,158.99 422.15,159.02 422.4,159.04 422.65,159.06 422.9,159.09 423.15,159.11 423.4,159.13 423.65,159.16 423.9,159.18 424.15,159.2 424.4,159.22 424.65,159.24 424.9,159.26 425.15,159.28 425.4,159.3 425.65,159.33 425.9,159.35 426.15,159.37 426.4,159.39 426.65,159.41 426.9,159.42 427.15,159.44 427.4,159.46 427.65,159.48 427.9,159.5 428.15,159.52 428.4,159.54 428.65,159.56 428.9,159.58 429.15,159.59 429.4,159.61 429.65,159.63 429.9,159.65 430.15,159.67 430.4,159.68 430.65,159.7 430.9,159.72 431.15,159.74 431.4,159.75 431.65,159.77 431.9,159.79 432.15,159.8 432.4,159.82 432.65,159.84 432.9,159.86 433.15,159.87 433.4,159.89 433.65,159.91 433.9,159.92 434.15,159.94 434.4,159.96 434.65,159.98 434.9,159.99 435.15,160.01 435.4,160.03 435.65,160.04 435.9,160.06 436.15,160.08 436.4,160.1 436.65,160.11 436.9,160.13 437.15,160.15 437.4,160.17 437.65,160.18 437.9,160.2 438.15,160.22 438.4,160.24 438.65,160.25 438.9,160.27 439.15,160.29 439.4,160.3 439.65,160.32 439.9,160.34 440.15,160.36 440.4,160.37 440.65,160.39 440.9,160.41 441.15,160.42 441.4,160.44 441.65,160.46 441.9,160.47 442.15,160.49 442.4,160.5 442.65,160.52 442.9,160.54 443.15,160.55 443.4,160.57 443.65,160.58 443.9,160.6 444.15,160.61 444.4,160.63 444.65,160.64 444.9,160.66 445.15,160.67 445.4,160.69 445.65,160.7 445.9,160.71 446.15,160.73 446.4,160.74 446.65,160.75 446.9,160.77 447.15,160.78 447.4,160.79 447.65,160.8 447.9,160.81 448.15,160.82 448.4,160.84 448.65,160.85 448.9,160.86 449.15,160.87 449.4,160.88 449.65,160.89 449.9,160.9 450.15,160.91 450.4,160.91 450.65,160.92 450.9,160.93 451.15,160.94 451.4,160.95 451.65,160.96 451.9,160.97 452.15,160.98 452.4,160.99 452.65,160.99 452.9,161 453.15,161.01 453.4,161.02 453.65,161.03 453.9,161.04 454.15,161.05 454.4,161.06 454.65,161.06 454.9,161.07 455.15,161.08 455.4,161.09 455.65,161.1 455.9,161.11 456.15,161.11 456.4,161.12 456.65,161.13 456.9,161.14 457.15,161.15 457.4,161.15 457.65,161.16 457.9,161.17 458.15,161.18 458.4,161.19 458.65,161.19 458.9,161.2 459.15,161.21 459.4,161.21 459.65,161.22 459.9,161.23 460.15,161.24 460.4,161.24 460.65,161.25 460.9,161.26 461.15,161.26 461.4,161.27 461.65,161.27 461.9,161.28 462.15,161.29 462.4,161.29 462.65,161.3 462.9,161.3 463.15,161.31 463.4,161.31 463.65,161.32 463.9,161.33 464.15,161.33 464.4,161.33 464.65,161.34 464.9,161.34 465.15,161.35 465.4,161.35 465.65,161.36 465.9,161.36 466.15,161.36 466.4,161.37 466.65,161.37 466.9,161.37 467.15,161.38 467.4,161.38 467.65,161.38 467.9,161.39 468.15,161.39 468.4,161.39 468.65,161.39 468.9,161.39 469.15,161.4 469.4,161.4 469.65,161.4 469.9,161.4"/>
<polyline fill="none" stroke="#2a2a2a" stroke-width="1.1" points="383.15,295.3 383.4,295.3 383.65,295.3 383.9,295.3 384.15,295.3 384.4,295.3 384.65,295.3 384.9,295.3 385.15,295.32 385.4,295.35 385.65,295.38 385.9,295.41 386.15,295.44 386.4,295.47 386.65,295.5 386.9,295.54 387.15,295.57 387.4,295.6 387.65,295.63 387.9,295.66 388.15,295.69 388.4,295.72 388.65,295.75 388.9,295.78 389.15,295.81 389.4,295.85 389.65,295.88 389.9,295.91 390.15,295.94 390.4,295.97 390.65,296 390.9,296.03 391.15,296.06 391.4,296.09 391.65,296.12 391.9,296.16 392.15,296.19 392.4,296.22 392.65,296.25 392.9,296.28 393.15,296.31 393.4,296.34 393.65,296.37 393.9,296.4 394.15,296.43 394.4,296.47 394.65,296.5 394.9,296.53 395.15,296.56 395.4,296.59 395.65,296.62 395.9,296.65 396.15,296.68 396.4,296.71 396.65,296.74 396.9,296.78 397.15,296.81 397.4,296.84 397.65,296.87 397.9,296.9 398.15,296.93 398.4,296.96 398.65,296.99 398.9,297.02 399.15,297.05 399.4,297.09 399.65,297.12 399.9,297.15 400.15,297.18 400.4,297.21 400.65,297.24 400.9,297.27 401.15,297.3 401.4,297.33 401.65,297.36 401.9,297.4 402.15,297.43 402.4,297.46 402.65,297.49 402.9,297.52 403.15,297.55 403.4,297.58 403.65,297.61 403.9,297.64 404.15,297.67 404.4,297.71 404.65,297.74 404.9,297.77 405.15,297.8 405.4,297.83 405.65,297.86 405.9,297.89 406.15,297.92 406.4,297.95 406.65,297.98 406.9,298.02 407.15,298.05 407.4,298.08 407.65,298.11 407.9,298.14 408.15,298.17 408.4,298.2 408.65,298.23 408.9,298.26 409.15,298.29 409.4,298.33 409.65,298.36 409.9,298.39 410.15,298.42 410.4,298.45 410.65,298.48 410.9,298.51 411.15,298.54 411.4,298.57 411.65,298.6 411.9,298.64 412.15,298.67 412.4,298.7 412.65,298.73 412.9,298.76 413.15,298.79 413.4,298.82 413.65,298.85 413.9,298.88 414.15,298.91 414.4,298.95 414.65,298.98 414.9,299.01 415.15,299.04 415.4,299.07 415.65,299.1 415.9,299.13 416.15,299.16 416.4,299.19 416.65,299.22 416.9,299.26 417.15,299.29 417.4,299.32 417.65,299.35 417.9,299.38 418.15,299.41 418.4,299.44 418.65,299.47 418.9,299.5 419.15,299.53 419.4,299.57 419.65,299.6 419.9,299.63 420.15,299.66 420.4,299.69 420.65,299.72 420.9,299.75 421.15,299.78 421.4,299.81 421.65,299.84 421.9,299.88 422.15,299.91 422.4,299.94 422.65,299.97 422.9,300 423.15,300.03 423.4,300.06 423.65,300.09 423.9,300.12 424.15,300.15 424.4,300.19 424.65,300.22 424.9,300.25 425.15,300.28 425.4,300.31 425.65,300.34 425.9,300.37 426.15,300.4 426.4,300.43 426.65,300.46 426.9,300.5 427.15,300.53 427.4,300.56 427.65,300.59 427.9,300.62 428.15,300.65 428.4,300.68 428.65,300.71 428.9,300.74 429.15,300.77 429.4,300.81 429.65,300.84 429.9,300.87 430.15,300.9 430.4,300.93 430.65,300.96 430.9,300.99 431.15,301.02 431.4,301.05 431.65,301.08 431.9,301.12 432.15,301.15 432.4,301.18 432.65,301.21 432.9,301.24 433.15,301.27 433.4,301.3 433.65,301.33 433.9,301.36 434.15,301.39 434.4,301.43 434.65,301.46 434.9,301.49 435.15,301.52 435.4,301.55 435.65,301.58 435.9,301.61 436.15,301.64 436.4,301.67 436.65,301.7 436.9,301.74 437.15,301.77 437.4,301.8 437.65,301.83 437.9,301.86 438.15,301.89 438.4,301.92 438.65,301.95 438.9,301.98 439.15,302 439.4,302 439.65,302 439.9,302 440.15,302 440.4,302 440.65,302 440.9,302 441.15,302 441.4,302 441.65,302 441.9,302 442.15,302 442.4,302 442.65,302 442.9,302 443.15,302 443.4,302 443.65,302 443.9,302 444.15,302 444.4,302 444.65,302 444.9,302 445.15,302 445.4,302 445.65,302 445.9,302 446.15,302 446.4,302 446.65,302 446.9,302 447.15,302 447.4,302 447.65,302 447.9,302 448.15,302 448.4,302 448.65,302 448.9,302 449.15,302 449.4,302 449.65,302 449.9,302 450.15,302 450.4,302 450.65,302 450.9,302 451.15,302 451.4,302 451.65,302 451.9,302 452.15,302 452.4,302 452.65,302 452.9,302 453.15,302 453.4,302 453.65,302 453.9,302 454.15,302 454.4,302 454.65,302 454.9,302 455.15,302 455.4,302 455.65,302 455.9,302 456.15,302 456.4,302 456.65,302 456.9,302 457.15,302 457.4,302 457.65,302 457.9,302 458.15,302 458.4,302 458.65,302 458.9,302 459.15,302 459.4,302 459.65,302 459.9,302 460.15,302 460.4,302 460.65,302 460.9,302 461.15,302 461.4,302 461.65,302 461.9,302 462.15,302 462.4,302 462.65,302 462.9,302 463.15,302 463.4,302 463.65,302 463.9,302 464.15,302 464.4,302 464.65,302 464.9,302 465.15,302 465.4,302 465.65,302 465.9,302 466.15,302 466.4,302 466.65,302 466.9,302 467.15,302 467.4,302 467.65,302 467.9,302 468.15,302 468.4,302 468.65,302 468.9,302 469.15,302 469.4,302 469.65,302 469.9,302 470.15,302 470.4,302 470.65,302 470.9,302 471.15,302 471.4,302 471.65,302 471.9,302 472.15,302 472.4,302 472.65,302 472.9,302 473.15,302 473.4,302 473.65,302 473.9,302 474.15,302 474.4,302 474.65,302 474.9,302 475.15,302 475.4,302 475.65,302 475.9,302 476.15,302 476.4,302 476.65,302 476.9,302 477.15,302 477.4,302 477.65,302 477.9,302 478.15,302 478.4,302 478.65,302 478.9,302 479.15,302 479.4,302 479.65,302 479.9,302 480.15,302 480.4,302 480.65,302 480.9,302 481.15,302 481.4,302 481.65,302 481.9,302 482.15,302 482.4,302 482.65,302 482.9,302 483.15,302 483.4,302 483.65,302 483.9,302 484.15,302 484.4,302 484.65,302 484.9,302 485.15,302 485.4,302 485.65,302 485.9,302 486.15,302 486.4,302 486.65,302 486.9,302 487.15,302 487.4,302 487.65,302 487.9,302 488.15,302 488.4,302 488.65,302 488.9,302 489.15,302 489.4,302 489.65,302 489.9,302 490.15,302 490.4,302 490.65,302 490.9,302 491.15,302 491.4,302 491.65,302 491.9,302 492.15,302 492.4,302 492.65,302 492.9,302 493.15,302 493.4,302 493.65,302 493.9,302 494.15,302 494.4,302 494.65,302 494.9,302 495.15,302 495.4,302 495.65,302 495.9,302 496.15,302 496.4,302 496.65,302 496.9,302 497.15,302 497.4,302 497.65,302 497.9,302 498.15,302 498.4,302 498.65,302 498.9,302 499.15,302 499.4,302 499.65,302 499.9,302 500.15,302 500.4,302 500.65,302 500.9,302 501.15,302 501.4,302 501.65,302 501.9,302 502.15,302 502.4,302 502.65,302 502.9,302 503.15,302 503.4,302 503.65,302 503.9,302 504.15,302 504.4,302 504.65,302 504.9,302 505.15,302 505.4,302 505.65,302 505.9,302 506.15,302 506.4,302 506.65,302 506.9,302 507.15,302 507.4,302 507.65,302 507.9,302 508.15,302 508.4,302 508.65,302 508.9,302 509.15,302 509.4,302 509.65,302 509.9,302 510.15,302 510.4,302 510.65,302 510.9,302 511.15,302 511.4,302 511.65,302 511.9,302 512.15,302 512.4,302 512.65,302 512.9,302 513.15,302 513.4,302 513.65,302 513.9,302 514.15,302 514.4,302 514.65,302 514.9,302 515.15,302 515.4,302 515.65,302 515.9,302 516.15,302 516.4,302 516.65,302 516.9,302 517.15,302 517.4,302 517.65,302 517.9,302 518.15,302 518.4,302 518.65,302 518.9,302 519.15,302 519.4,302 519.65,302 519.9,302 520.15,302 520.4,302 520.65,302 520.9,302 521.15,302 521.4,302 521.65,302 521.9,302 522.15,302 522.4,302 522.65,302 522.9,302 523.15,302 523.4,302 523.65,302 523.9,302 524.15,302 524.4,302 524.65,302 524.9,302 525.15,302 525.4,302 525.65,302 525.9,302 526.15,302 526.4,302 526.65,302 526.9,302 527.15,302 527.4,302 527.65,302 527.9,302 528.15,302 528.4,302 528.65,302 528.9,302 529.15,302 529.4,302 529.65,302 529.9,302 530.15,302 530.4,302 530.65,302 530.9,302 531.15,302 531.4,302 531.65,302 531.9,302 532.15,302 532.4,302 532.65,302 532.9,302 533.15,302 533.4,302 533.65,302 533.9,302 534.15,302 534.4,302"/>
<line x1="355" y1="295.3" x2="385" y2="295.3" stroke="#1a1a1a" stroke-width="1.1" stroke-dasharray="2.4,1.5"/>
<polyline fill="none" stroke="#222" stroke-width="1.0" points="338.9,161.37 339.15,161.95 339.4,161.66 339.65,161.48 339.9,161.87 340.15,161.67 340.4,161.51 340.65,161.48 340.9,161.96 341.15,161.36 341.4,161.61 341.65,161.59 341.9,161.8 342.15,161.62 342.4,162.44 342.65,161.08 342.9,161.89 343.15,161.68 343.4,162.08 343.65,161.12 343.9,162.11 344.15,161.2 344.4,161.93 344.65,161.87 344.9,161.7 345.15,161.43 345.4,161.4 345.65,161.72 345.9,161.42 346.15,161 346.4,161.05 346.65,161.97 346.9,161.97 347.15,161.87 347.4,161.7 347.65,161.82 347.9,161.86 348.15,161.78 348.4,161.41 348.65,161.43 348.9,161.29 349.15,161.74 349.4,161.34 349.65,161.64 349.9,162.15 350.15,161.56 350.4,162.03 350.65,162.24 350.9,161.05 351.15,161.19 351.4,161.86 351.65,161.45 351.9,161.88 352.15,160.72 352.4,161.08 352.65,160.7 352.9,161.87 353.15,161.26 353.4,162.1 353.65,161.01 353.9,160.95 354.15,160.7 354.4,159.78 354.65,159.79 354.9,160.45 355.15,159.28 355.4,159.4 355.65,159.05 355.9,159.16 356.15,158.39 356.4,158.29 356.65,158.16 356.9,157.87 357.15,156.83 357.4,157.45 357.65,156 357.9,155.56 358.15,155.2 358.4,155.59 358.65,154.8 358.9,153.82 359.15,152.79 359.4,153.33 359.65,151.59 359.9,150.39 360.15,151.2 360.4,149.35 360.65,149.09 360.9,147.13 361.15,147.36 361.4,146.73 361.65,146.41 361.9,144.29 362.15,142.48 362.4,141.52 362.65,140.85 362.9,140.14 363.15,138.44 363.4,136.93 363.65,135.89 363.9,135.53 364.15,134.24 364.4,133.51 364.65,131.32 364.9,131.22 365.15,130.52 365.4,129.22 365.65,126.69 365.9,126.26 366.15,125.91 366.4,124.28 366.65,125.46 366.9,125.3 367.15,125.25 367.4,123.78 367.65,125.74 367.9,125.52 368.15,127.6 368.4,126.93 368.65,126.48 368.9,127.67 369.15,127.46 369.4,129 369.65,129.51 369.9,128.48 370.15,129.25 370.4,130.32 370.65,131.02 370.9,131.07 371.15,132.3 371.4,132.97 371.65,131.35 371.9,132.6 372.15,133.43 372.4,132.09 372.65,132.91 372.9,132.19 373.15,130.81 373.4,131.8 373.65,129.94 373.9,129.51 374.15,130.51 374.4,130.67 374.65,129.56 374.9,130.44 375.15,129.99 375.4,132.33 375.65,131.48 375.9,129.56 376.15,130.68 376.4,130.61 376.65,130.29 376.9,131.19 377.15,131.22 377.4,132.05 377.65,131.74 377.9,133.6 378.15,134.38 378.4,135.26 378.65,135.49 378.9,137.33 379.15,138.49 379.4,140.86 379.65,141.01 379.9,142.43 380.15,144.01 380.4,144.59 380.65,145.76 380.9,146.41 381.15,149.08 381.4,149.29 381.65,149.08 381.9,150.49 382.15,151.35 382.4,149.81 382.65,151.51 382.9,152.06 383.15,153 383.4,152.85 383.65,153.04 383.9,153.26 384.15,154.46 384.4,154.71 384.65,153.38 384.9,153.29 385.15,155.38 385.4,153.45 385.65,153.76 385.9,154.18 386.15,154.47 386.4,154.81 386.65,154.5 386.9,153.81 387.15,154.57 387.4,154.42 387.65,155.3 387.9,154.23 388.15,153.48 388.4,153.59 388.65,154.89 388.9,153.76 389.15,152.86 389.4,153.64 389.65,153.89 389.9,154.48 390.15,153.2 390.4,154.06 390.65,154.01 390.9,153.12 391.15,153.24 391.4,154.18 391.65,153.99 391.9,153.36 392.15,152.77 392.4,153.13 392.65,152.2 392.9,152.02 393.15,151.46 393.4,151.66 393.65,151.48 393.9,152.63 394.15,151.02 394.4,151.63 394.65,151.46 394.9,150.11 395.15,150.7 395.4,148.79 395.65,149.85 395.9,149.78 396.15,148.01 396.4,148.38 396.65,149.07 396.9,148.22 397.15,147.05 397.4,147.26 397.65,146.97 397.9,147.21 398.15,146.72 398.4,145.7 398.65,145.11 398.9,145.41 399.15,145.56 399.4,144.36 399.65,144.48 399.9,143.14 400.15,141.81 400.4,142.19 400.65,142.09 400.9,141.57 401.15,140.02 401.4,139.41 401.65,139 401.9,138.79 402.15,137.97 402.4,136.93 402.65,136.77 402.9,134.83 403.15,134.85 403.4,133.56 403.65,131.82 403.9,129.54 404.15,126.14 404.4,124.9 404.65,121.87 404.9,116.92 405.15,114.55 405.4,109.39 405.65,102.78 405.9,98.93 406.15,96.96 406.4,91.99 406.65,88.83 406.9,86.62 407.15,85.87 407.4,82.41 407.65,79.04 407.9,74.31 408.15,70.36 408.4,64.96 408.65,61.49 408.9,56.42 409.15,52.89 409.4,49.45 409.65,45.45 409.9,42.46 410.15,33.61 410.4,33.89 410.65,30.2 410.9,29.75 411.15,32.66 411.4,33.33 411.65,41.46 411.9,44.57 412.15,48.68 412.4,51.43 412.65,55.71 412.9,60.53 413.15,64.51 413.4,69.64 413.65,75.72 413.9,78.52 414.15,84.85 414.4,88 414.65,91.53 414.9,95.74 415.15,102.9 415.4,108.47 415.65,110.78 415.9,118.49 416.15,124.47 416.4,127.71 416.65,129.79 416.9,131.36 417.15,133.79 417.4,135.71 417.65,136.39 417.9,137.39 418.15,140.13 418.4,139.81 418.65,141.69 418.9,144.64 419.15,145.35 419.4,145.97 419.65,147.05 419.9,148.54 420.15,148.76 420.4,149.19 420.65,149.01 420.9,150.23 421.15,150.5 421.4,150.96 421.65,151.48 421.9,152.23 422.15,152.5 422.4,153.54 422.65,152.72 422.9,153.68 423.15,155.14 423.4,154.39 423.65,155.37 423.9,155.61 424.15,155.98 424.4,155.91 424.65,154.94 424.9,155.82 425.15,155.98 425.4,155.52 425.65,156.31 425.9,156.05 426.15,155.93 426.4,157.13 426.65,157.1 426.9,156.87 427.15,156.85 427.4,157.17 427.65,157.34 427.9,157.44 428.15,157.72 428.4,157.59 428.65,158.16 428.9,158.31 429.15,158.31 429.4,157.84 429.65,157.96 429.9,158.63 430.15,158.35 430.4,158.53 430.65,157.26 430.9,157.23 431.15,158.95 431.4,159.03 431.65,159.69 431.9,159.36 432.15,159.14 432.4,159.07 432.65,158.34 432.9,159.66 433.15,158.89 433.4,159.55 433.65,159.43 433.9,159.5 434.15,159.89 434.4,159.16 434.65,159.26 434.9,159.04 435.15,159.35 435.4,160.51 435.65,159.43 435.9,160.32 436.15,160.16 436.4,160.14 436.65,160.21 436.9,159.24 437.15,160.04 437.4,160.74 437.65,159.52 437.9,159.91 438.15,159.58 438.4,160.17 438.65,159.43 438.9,160.94 439.15,159.88 439.4,159.27 439.65,161.14 439.9,160.72 440.15,160.5 440.4,160.54 440.65,160.09 440.9,160.19 441.15,160.75 441.4,160.87 441.65,160.9 441.9,160.52 442.15,160.17 442.4,160.33 442.65,161.07 442.9,161.27 443.15,160.3 443.4,160.24 443.65,161.21 443.9,160.93 444.15,160.94 444.4,159.85 444.65,160.37 444.9,160.31 445.15,160.72 445.4,159.69 445.65,161.33 445.9,160.81 446.15,160.9 446.4,160.02 446.65,160.67 446.9,161.43 447.15,159.84 447.4,160.89 447.65,161.12 447.9,160.37 448.15,161.21 448.4,160.59 448.65,161.46 448.9,161.09 449.15,160.93 449.4,161.92 449.65,161.29 449.9,161.57 450.15,160.21 450.4,160.51 450.65,161.34 450.9,161.39 451.15,160.87 451.4,161.35 451.65,160.35 451.9,161.06 452.15,160.32 452.4,161.15 452.65,160.7 452.9,160.63 453.15,161.02 453.4,162 453.65,160.46 453.9,160.69 454.15,161.62 454.4,160.81 454.65,162.03 454.9,161.18 455.15,161.12 455.4,161.27 455.65,162.04 455.9,161.46 456.15,161.39 456.4,161.25 456.65,160.26 456.9,160.64 457.15,161.95 457.4,161.59 457.65,161.42 457.9,161.5 458.15,160.86 458.4,161.35 458.65,160.67 458.9,161.39 459.15,160.78 459.4,161.06 459.65,161.43 459.9,161.01 460.15,161.54 460.4,161.44 460.65,161.39 460.9,161.92 461.15,160.39 461.4,160.32 461.65,161.54 461.9,161.72 462.15,162.1 462.4,161.61 462.65,161.64 462.9,160.69 463.15,161.57 463.4,161.51 463.65,160.54 463.9,160.59 464.15,161 464.4,161.2 464.65,159.39 464.9,160.99 465.15,161.04 465.4,160.79 465.65,161 465.9,161.06 466.15,160.19 466.4,160.88 466.65,160.35 466.9,159.85 467.15,160.36 467.4,160.82 467.65,158.96 467.9,158.61 468.15,158.44 468.4,160.1 468.65,158.59 468.9,158.37 469.15,157.76 469.4,157.55 469.65,156.65 469.9,157.63 470.15,157.48 470.4,155.72 470.65,156.26 470.9,156.11 471.15,156.24 471.4,155.89 471.65,156.09 471.9,156.1 472.15,155.59 472.4,155.34 472.65,153.79 472.9,154.11 473.15,154.65 473.4,154.34 473.65,153.93 473.9,152.83 474.15,152.63 474.4,154 474.65,153.26 474.9,153.09 475.15,152.68 475.4,152.41 475.65,153.32 475.9,153.94 476.15,154.26 476.4,153.17 476.65,153.58 476.9,153.06 477.15,154.69 477.4,155.04 477.65,153.52 477.9,154.61 478.15,154.68 478.4,154.39 478.65,153.92 478.9,155.13 479.15,155.86 479.4,155.15 479.65,155.76 479.9,154.63 480.15,157.32 480.4,157.37 480.65,157.38 480.9,157.34 481.15,157.46 481.4,158.07 481.65,158 481.9,158.24 482.15,158.66 482.4,158.9 482.65,159.84 482.9,158.37 483.15,159.48 483.4,158.96 483.65,158.96 483.9,158.45 484.15,160.14 484.4,159.43 484.65,159.64 484.9,160.5 485.15,159.72 485.4,160.43 485.65,160.46 485.9,161 486.15,161.17 486.4,160.15 486.65,161.17 486.9,160.7 487.15,160.87 487.4,160.7 487.65,161.31 487.9,160.24 488.15,161.08 488.4,161.63 488.65,160.83 488.9,162.1 489.15,160.62 489.4,161.18 489.65,160.81 489.9,160.73 490.15,160.47 490.4,160.79 490.65,161.07 490.9,160.66 491.15,161.59 491.4,161.94 491.65,160.27 491.9,161.57 492.15,161.2 492.4,161.23 492.65,162.1 492.9,161.79 493.15,161.29 493.4,161.23 493.65,159.95 493.9,161.54 494.15,160.73 494.4,161.24 494.65,161.19 494.9,161.68 495.15,162.1 495.4,161.68 495.65,161.85 495.9,161.03 496.15,161.41 496.4,161.58 496.65,160.36 496.9,162.1 497.15,160.78 497.4,160.47 497.65,162.08 497.9,162.1 498.15,160.79 498.4,160.84 498.65,162.1 498.9,161.24 499.15,160.09 499.4,160.84 499.65,162.1 499.9,161.55 500.15,161.6 500.4,161.86 500.65,161.55 500.9,161 501.15,160.32 501.4,161.44 501.65,160.59 501.9,161.18 502.15,162.1 502.4,161.51 502.65,161.25 502.9,161.25 503.15,161.6 503.4,161.72 503.65,160.49 503.9,161.3 504.15,162.1 504.4,161.64 504.65,160.8 504.9,160.85 505.15,160.1 505.4,160.79 505.65,162.1 505.9,161.2 506.15,160.75 506.4,160.9 506.65,161.17 506.9,161.18 507.15,161.05 507.4,160.82 507.65,161.58 507.9,162.09 508.15,160.93 508.4,160.95 508.65,161.9 508.9,160.44 509.15,160.92 509.4,161.03 509.65,161.34 509.9,161.09 510.15,160.76 510.4,161.42 510.65,160.61 510.9,160.28 511.15,160.14 511.4,161.67 511.65,160.29 511.9,161.5 512.15,161.62 512.4,161.7 512.65,161.15 512.9,160.96 513.15,161.29 513.4,160.93 513.65,160.56 513.9,161.96 514.15,160.78 514.4,162.1 514.65,161.55 514.9,161.02 515.15,161.5 515.4,161.94 515.65,160.51 515.9,160.76 516.15,160.7 516.4,161.37 516.65,161.5 516.9,161.28 517.15,160.87 517.4,160.99 517.65,161.93 517.9,161.88 518.15,161.35 518.4,160.56 518.65,161.63 518.9,161.44 519.15,161.42 519.4,162.1 519.65,161.74 519.9,160.75 520.15,160.75 520.4,162.04 520.65,161.38 520.9,161.78 521.15,161.23 521.4,160.77 521.65,161.47 521.9,162.1 522.15,161.49 522.4,160.7 522.65,161.14 522.9,161.05 523.15,161.42 523.4,161.9 523.65,162.1 523.9,161.46 524.15,161.11 524.4,161.39 524.65,161.36 524.9,161.11 525.15,161.36 525.4,161.33 525.65,160.7 525.9,161.64 526.15,161.13 526.4,160.8 526.65,161.62 526.9,161.08 527.15,162.1 527.4,161.6 527.65,161.38 527.9,160.93 528.15,161.12 528.4,161.81 528.65,160.96 528.9,161.75 529.15,160.17 529.4,161.44 529.65,161.78 529.9,161.52 530.15,161.33 530.4,161.89 530.65,160.87 530.9,160.8 531.15,161.4 531.4,162 531.65,161.57 531.9,161.22 532.15,161.51 532.4,161.57 532.65,160.65 532.9,159.79 533.15,160.77 533.4,160.51 533.65,161.01 533.9,160.68 534.15,160.86 534.4,161.58"/>
<polyline fill="none" stroke="#222" stroke-width="1.0" points="338.9,293.95 339.15,294.16 339.4,294.87 339.65,295.67 339.9,293.51 340.15,293.22 340.4,293.58 340.65,293.55 340.9,294.61 341.15,295.08 341.4,294.41 341.65,294.59 341.9,294.86 342.15,294.69 342.4,294.63 342.65,294.59 342.9,295.22 343.15,293.63 343.4,294.08 343.65,294.61 343.9,296.32 344.15,293.82 344.4,294.97 344.65,293.91 344.9,294.31 345.15,293.88 345.4,295.74 345.65,294.69 345.9,294.08 346.15,295.12 346.4,293.94 346.65,294.62 346.9,293.49 347.15,294.21 347.4,294.67 347.65,294.67 347.9,293.84 348.15,293.89 348.4,293.2 348.65,292.94 348.9,294.26 349.15,295.21 349.4,294.76 349.65,294.83 349.9,294.43 350.15,294.41 350.4,294.4 350.65,295.6 350.9,294.2 351.15,295.27 351.4,293.44 351.65,293.68 351.9,294.38 352.15,293.38 352.4,295.51 352.65,294.6 352.9,294.73 353.15,294.11 353.4,294.78 353.65,293.99 353.9,295.38 354.15,295.36 354.4,293.98 354.65,293.85 354.9,293.41 355.15,293.44 355.4,295.35 355.65,295.02 355.9,295.58 356.15,292.93 356.4,292.17 356.65,291.12 356.9,290.92 357.15,290.62 357.4,290.55 357.65,289.07 357.9,288.5 358.15,287.55 358.4,287.41 358.65,286.9 358.9,285.25 359.15,284.52 359.4,283.01 359.65,282.9 359.9,278.95 360.15,278.91 360.4,277.85 360.65,276.82 360.9,274.56 361.15,272.97 361.4,272.51 361.65,270.88 361.9,269.74 362.15,267.55 362.4,267.08 362.65,266.49 362.9,265.69 363.15,262.39 363.4,262.88 363.65,262.64 363.9,262.2 364.15,261.21 364.4,260.91 364.65,260.99 364.9,260.27 365.15,259.21 365.4,260.83 365.65,260.07 365.9,261.47 366.15,262.29 366.4,262.1 366.65,263.23 366.9,262.45 367.15,263.85 367.4,264.19 367.65,264.69 367.9,266 368.15,264.84 368.4,267.23 368.65,268.94 368.9,268.33 369.15,268.91 369.4,269.35 369.65,270.65 369.9,270.45 370.15,269.75 370.4,269.8 370.65,270.78 370.9,271.04 371.15,270.18 371.4,270.72 371.65,269.19 371.9,269.71 372.15,268.16 372.4,270.63 372.65,269.11 372.9,267.96 373.15,265.35 373.4,266.77 373.65,269.43 373.9,266.82 374.15,266.43 374.4,266.68 374.65,266.97 374.9,266.89 375.15,267.3 375.4,266.53 375.65,267.5 375.9,268.71 376.15,268.77 376.4,269.22 376.65,270.7 376.9,271.81 377.15,272.3 377.4,275.44 377.65,275.68 377.9,278.52 378.15,278.84 378.4,279.14 378.65,282.18 378.9,281.15 379.15,282.9 379.4,285.73 379.65,285.5 379.9,287.47 380.15,285.38 380.4,288.87 380.65,288.79 380.9,289.69 381.15,290.41 381.4,289.15 381.65,290.59 381.9,291.72 382.15,293.53 382.4,291.76 382.65,293.79 382.9,293.2 383.15,293.77 383.4,292.93 383.65,294.02 383.9,293.41 384.15,293.28 384.4,294.85 384.65,293.76 384.9,293.92 385.15,294.57 385.4,293.73 385.65,293.49 385.9,294.27 386.15,294.31 386.4,294.9 386.65,293.4 386.9,294.49 387.15,294.47 387.4,293.73 387.65,293.89 387.9,293.95 388.15,293.37 388.4,293.07 388.65,294.14 388.9,293.21 389.15,293.13 389.4,294.08 389.65,293.23 389.9,293.1 390.15,292.48 390.4,292.11 390.65,291.8 390.9,291.59 391.15,292.62 391.4,291.05 391.65,289.4 391.9,290.04 392.15,290.74 392.4,288.95 392.65,289.3 392.9,288.28 393.15,287.03 393.4,286.94 393.65,286.08 393.9,285.41 394.15,285.34 394.4,284.43 394.65,284.86 394.9,282.49 395.15,283.8 395.4,282.92 395.65,283.23 395.9,282 396.15,280.62 396.4,281.41 396.65,282.1 396.9,281.76 397.15,280.57 397.4,281.31 397.65,281.42 397.9,281.92 398.15,280.02 398.4,280.81 398.65,279.62 398.9,279.41 399.15,280.96 399.4,281.29 399.65,281.5 399.9,280.65 400.15,281.02 400.4,280.6 400.65,280.09 400.9,278.8 401.15,278.17 401.4,279.13 401.65,277.26 401.9,278.09 402.15,274.66 402.4,274.08 402.65,272.8 402.9,272.64 403.15,269.53 403.4,266.78 403.65,265.04 403.9,261.24 404.15,258.12 404.4,253.3 404.65,250.55 404.9,246.76 405.15,243.51 405.4,238.59 405.65,235.7 405.9,230.73 406.15,225.1 406.4,220.53 406.65,218.41 406.9,212.68 407.15,206.42 407.4,204.82 407.65,200.91 407.9,195.5 408.15,192.91 408.4,189.46 408.65,184.56 408.9,180.77 409.15,179.67 409.4,179 409.65,186.1 409.9,188.79 410.15,193.4 410.4,197.38 410.65,198.62 410.9,201.93 411.15,205.3 411.4,211.51 411.65,215.1 411.9,218.03 412.15,223.15 412.4,224.68 412.65,229.93 412.9,233.32 413.15,238.48 413.4,243.11 413.65,248.11 413.9,251.37 414.15,254.47 414.4,261.13 414.65,262.3 414.9,265.66 415.15,266.18 415.4,270.04 415.65,270.95 415.9,272.7 416.15,274.19 416.4,275.63 416.65,277.17 416.9,276.35 417.15,279.61 417.4,279.87 417.65,281.88 417.9,282.9 418.15,282.41 418.4,283.89 418.65,286.55 418.9,285.07 419.15,287.37 419.4,287.44 419.65,288.06 419.9,287.13 420.15,289.34 420.4,289.2 420.65,289.58 420.9,291.03 421.15,290.86 421.4,292.14 421.65,291.83 421.9,293.15 422.15,293.51 422.4,293.24 422.65,293.6 422.9,294.15 423.15,294.63 423.4,294.96 423.65,296.68 423.9,296.23 424.15,296.14 424.4,296.45 424.65,296.48 424.9,297.34 425.15,297.41 425.4,297.31 425.65,297.54 425.9,297.92 426.15,297.78 426.4,298.63 426.65,298.26 426.9,299.25 427.15,298.94 427.4,299.57 427.65,299.1 427.9,298.52 428.15,298.93 428.4,299.61 428.65,300.08 428.9,300.19 429.15,300.34 429.4,300.53 429.65,300.43 429.9,300.55 430.15,300.26 430.4,300.77 430.65,300.46 430.9,300.55 431.15,300.75 431.4,301.96 431.65,299.94 431.9,300.53 432.15,300.68 432.4,301.1 432.65,300.92 432.9,301.84 433.15,300.13 433.4,302.02 433.65,300.37 433.9,300.7 434.15,301.44 434.4,301.21 434.65,301.19 434.9,301.24 435.15,301.44 435.4,301.76 435.65,301.48 435.9,300.56 436.15,300.88 436.4,302.04 436.65,302.3 436.9,301.83 437.15,301.9 437.4,301.49 437.65,302.3 437.9,301.03 438.15,301.14 438.4,300.94 438.65,302.24 438.9,301.11 439.15,301.69 439.4,300.66 439.65,300.59 439.9,301.99 440.15,301.81 440.4,301.9 440.65,301.59 440.9,301.29 441.15,301.25 441.4,300.88 441.65,301.3 441.9,302.24 442.15,301.44 442.4,300.81 442.65,301.42 442.9,301.01 443.15,300.92 443.4,301.51 443.65,301.14 443.9,300.89 444.15,302.3 444.4,302.3 444.65,301.68 444.9,302.3 445.15,301.36 445.4,301.6 445.65,302.3 445.9,301.78 446.15,302.08 446.4,300.13 446.65,301.8 446.9,301.41 447.15,301.59 447.4,300.83 447.65,301.23 447.9,302 448.15,301.99 448.4,302.1 448.65,302.15 448.9,302.29 449.15,301.9 449.4,301.56 449.65,301.38 449.9,301.47 450.15,301.16 450.4,301.16 450.65,301.65 450.9,300.45 451.15,301.03 451.4,301.27 451.65,302 451.9,302.3 452.15,301.9 452.4,301.7 452.65,301.45 452.9,302.3 453.15,302.11 453.4,301.38 453.65,301.72 453.9,301.97 454.15,302.25 454.4,301.56 454.65,302.3 454.9,302.3 455.15,301.53 455.4,301.65 455.65,301.26 455.9,301.26 456.15,301.95 456.4,302.3 456.65,302.3 456.9,301.89 457.15,301.59 457.4,301.45 457.65,302.03 457.9,301.54 458.15,302.2 458.4,301.74 458.65,301.97 458.9,301.53 459.15,302.3 459.4,302.3 459.65,301.87 459.9,301.34 460.15,302.13 460.4,302.24 460.65,301.19 460.9,301.87 461.15,302.3 461.4,301.94 461.65,301.62 461.9,302.17 462.15,302.3 462.4,301.6 462.65,301.6 462.9,301.71 463.15,301.89 463.4,302.3 463.65,302.03 463.9,300.63 464.15,302.08 464.4,302.04 464.65,302.1 464.9,301.83 465.15,301.51 465.4,301.74 465.65,300.96 465.9,300.22 466.15,300.75 466.4,300.18 466.65,301.57 466.9,300.35 467.15,300.99 467.4,299.13 467.65,299.17 467.9,299.83 468.15,298.19 468.4,298.73 468.65,297.64 468.9,298.63 469.15,297.16 469.4,297.58 469.65,296.32 469.9,297.26 470.15,297.12 470.4,295.66 470.65,295.02 470.9,295.58 471.15,295.35 471.4,294.81 471.65,294.85 471.9,294.54 472.15,293.47 472.4,292.86 472.65,291.96 472.9,291.93 473.15,291.33 473.4,291.06 473.65,290.96 473.9,291.83 474.15,289.71 474.4,289.96 474.65,289.96 474.9,290.05 475.15,291.05 475.4,290.9 475.65,291.35 475.9,290.67 476.15,292.26 476.4,292.07 476.65,291.37 476.9,293.57 477.15,293.72 477.4,293.86 477.65,294.15 477.9,293.45 478.15,295.19 478.4,295.24 478.65,295.92 478.9,296.31 479.15,296.88 479.4,296.83 479.65,297.8 479.9,298.02 480.15,299.1 480.4,298.3 480.65,299.52 480.9,299.52 481.15,299.54 481.4,300.77 481.65,300.42 481.9,299.9 482.15,300.54 482.4,300.07 482.65,300.05 482.9,300.56 483.15,300.73 483.4,302.04 483.65,301.66 483.9,300.02 484.15,301.34 484.4,301.13 484.65,301.47 484.9,301.68 485.15,301.62 485.4,301.85 485.65,301.19 485.9,302.3 486.15,301.57 486.4,302.3 486.65,301.59 486.9,301.95 487.15,301.16 487.4,302.3 487.65,301.87 487.9,301.49 488.15,301.93 488.4,301.99 488.65,300.88 488.9,301.33 489.15,301.2 489.4,302.21 489.65,301.87 489.9,301.39 490.15,301.39 490.4,301.76 490.65,300.53 490.9,301.7 491.15,302.3 491.4,301.02 491.65,301.15 491.9,301.19 492.15,302.06 492.4,301.41 492.65,302.3 492.9,301.72 493.15,301.56 493.4,301.23 493.65,302.22 493.9,302.3 494.15,301.95 494.4,302.3 494.65,302.3 494.9,302.06 495.15,301.89 495.4,301.57 495.65,301.99 495.9,301.68 496.15,302.3 496.4,302.29 496.65,301.79 496.9,301.67 497.15,302.12 497.4,302.3 497.65,302.05 497.9,302.3 498.15,301.66 498.4,302.03 498.65,302.26 498.9,302.02 499.15,302.12 499.4,302.3 499.65,301.91 499.9,302.3 500.15,301.64 500.4,302.19 500.65,301.68 500.9,301.72 501.15,302.26 501.4,302.3 501.65,301.88 501.9,302 502.15,302.3 502.4,301.51 502.65,302.3 502.9,301.32 503.15,300.92 503.4,302.15 503.65,301.8 503.9,301.68 504.15,300.65 504.4,302.16 504.65,301.72 504.9,301.32 505.15,301.9 505.4,301.31 505.65,301.54 505.9,301.52 506.15,302.3 506.4,301.9 506.65,302.3 506.9,301.52 507.15,301.31 507.4,302.3 507.65,301.21 507.9,302.3 508.15,301.36 508.4,302.3 508.65,301.56 508.9,302.3 509.15,302.3 509.4,302.3 509.65,302.17 509.9,301.78 510.15,302.3 510.4,302.3 510.65,301.74 510.9,301.36 511.15,302.3 511.4,301.87 511.65,302.3 511.9,302.1 512.15,302.15 512.4,301.85 512.65,301.93 512.9,301.08 513.15,301.69 513.4,301.53 513.65,302.3 513.9,301.84 514.15,302.07 514.4,301.09 514.65,302.05 514.9,302.3 515.15,302.11 515.4,302.3 515.65,301.84 515.9,301.68 516.15,302.3 516.4,301.77 516.65,301.44 516.9,301.96 517.15,301.81 517.4,302.3 517.65,302.3 517.9,301.23 518.15,302.3 518.4,301.29 518.65,302.12 518.9,302.3 519.15,301.74 519.4,301.74 519.65,302.3 519.9,301.86 520.15,301.41 520.4,302.3 520.65,302.3 520.9,302.29 521.15,302.22 521.4,302.3 521.65,302.08 521.9,302.3 522.15,302.22 522.4,301.67 522.65,302.3 522.9,302.14 523.15,301.6 523.4,301.81 523.65,300.73 523.9,301.14 524.15,301.25 524.4,302.3 524.65,302.3 524.9,302.3 525.15,302.27 525.4,302.3 525.65,301.79 525.9,301.62 526.15,301.52 526.4,302.14 526.65,301.67 526.9,301.52 527.15,301.73 527.4,302.11 527.65,301.31 527.9,302.01 528.15,302.01 528.4,302.3 528.65,302.1 528.9,301.31 529.15,302.15 529.4,302.12 529.65,301.32 529.9,300.34 530.15,302.3 530.4,301.91 530.65,301.61 530.9,301.92 531.15,302.3 531.4,302.3 531.65,301.75 531.9,302.3 532.15,301.98 532.4,302.01 532.65,301.96 532.9,301.98 533.15,301.93 533.4,301.63 533.65,302.02 533.9,301.45 534.15,302.3 534.4,301.65"/>
<polyline fill="none" stroke="#161616" stroke-width="1.15" stroke-dasharray="2.2,1.4" points="353.15,161.1 353.4,161 353.65,160.88 353.9,160.75 354.15,160.61 354.4,160.46 354.65,160.31 354.9,160.14 355.15,159.96 355.4,159.78 355.65,159.59 355.9,159.4 356.15,159.2 356.4,158.98 356.65,158.73 356.9,158.46 357.15,158.15 357.4,157.82 357.65,157.46 357.9,157.07 358.15,156.66 358.4,156.21 358.65,155.74 358.9,155.24 359.15,154.67 359.4,154.02 359.65,153.31 359.9,152.54 360.15,151.73 360.4,150.89 360.65,150.03 360.9,149.16 361.15,148.29 361.4,147.37 361.65,146.41 361.9,145.41 362.15,144.39 362.4,143.35 362.65,142.3 362.9,141.22 363.15,140.1 363.4,138.95 363.65,137.79 363.9,136.64 364.15,135.52 364.4,134.44 364.65,133.35 364.9,132.19 365.15,131.05 365.4,130 365.65,129.11 365.9,128.45 366.15,128.04 366.4,127.69 366.65,127.43 366.9,127.29 367.15,127.34 367.4,127.56 367.65,127.93 367.9,128.42 368.15,129.02 368.4,129.69 368.65,130.42 368.9,131.18 369.15,131.97 369.4,132.77 369.65,133.66 369.9,134.65 370.15,135.73 370.4,136.88 370.65,138.08 370.9,139.32 371.15,140.57 371.4,141.82 371.65,143.04 371.9,144.22 372.15,145.33 372.4,146.38 372.65,147.36 372.9,148.29 373.15,149.15 373.4,149.97 373.65,150.72 373.9,151.41 374.15,152.04 374.4,152.61 374.65,153.1 374.9,153.51 375.15,153.85 375.4,154.14 375.65,154.36 375.9,154.55 376.15,154.69 376.4,154.8 376.65,154.89 376.9,154.96 377.15,155.02 377.4,155.06 377.65,155.09 377.9,155.11 378.15,155.12 378.4,155.13 378.65,155.13 378.9,155.13 379.15,155.13 379.4,155.13 379.65,155.11 379.9,155.09 380.15,155.07 380.4,155.05 380.65,155.02 380.9,155 381.15,154.97"/>
<polyline fill="none" stroke="#161616" stroke-width="1.15" stroke-dasharray="2.2,1.4" points="355.15,160.99 355.4,160.93 355.65,160.88 355.9,160.83 356.15,160.79 356.4,160.74 356.65,160.69 356.9,160.64 357.15,160.59 357.4,160.55 357.65,160.5 357.9,160.45 358.15,160.41 358.4,160.37 358.65,160.33 358.9,160.3 359.15,160.26 359.4,160.22 359.65,160.18 359.9,160.13 360.15,160.09 360.4,160.05 360.65,160.01 360.9,159.96 361.15,159.91 361.4,159.86 361.65,159.8 361.9,159.74 362.15,159.68 362.4,159.61 362.65,159.54 362.9,159.47 363.15,159.39 363.4,159.31 363.65,159.22 363.9,159.14 364.15,159.05 364.4,158.95 364.65,158.86 364.9,158.75 365.15,158.65 365.4,158.53 365.65,158.42 365.9,158.29 366.15,158.17 366.4,158.04 366.65,157.89 366.9,157.74 367.15,157.57 367.4,157.38 367.65,157.18 367.9,156.95 368.15,156.69 368.4,156.41 368.65,156.08 368.9,155.71 369.15,155.29 369.4,154.8 369.65,154.26 369.9,153.66 370.15,152.99 370.4,152.27 370.65,151.48 370.9,150.62 371.15,149.71 371.4,148.74 371.65,147.71 371.9,146.62 372.15,145.48 372.4,144.27 372.65,143.03 372.9,141.76 373.15,140.52 373.4,139.32 373.65,138.21 373.9,137.22 374.15,136.38 374.4,135.73 374.65,135.17 374.9,134.7 375.15,134.29 375.4,133.95 375.65,133.66 375.9,133.42 376.15,133.22 376.4,133.06 376.65,132.96 376.9,133.08 377.15,133.38 377.4,133.84 377.65,134.42 377.9,135.06 378.15,135.74 378.4,136.52 378.65,137.56 378.9,138.79 379.15,140.12 379.4,141.44 379.65,142.69 379.9,143.77 380.15,144.84 380.4,145.91 380.65,146.93 380.9,147.89 381.15,148.75 381.4,149.49 381.65,150.1 381.9,150.68 382.15,151.23 382.4,151.74 382.65,152.21 382.9,152.61 383.15,152.96 383.4,153.23 383.65,153.43 383.9,153.57 384.15,153.7 384.4,153.82 384.65,153.92 384.9,154.02 385.15,154.1 385.4,154.18 385.65,154.24"/>
<polyline fill="none" stroke="#161616" stroke-width="1.15" stroke-dasharray="2.2,1.4" points="390.4,154.26 390.65,154.25 390.9,154.23 391.15,154.21 391.4,154.18 391.65,154.15 391.9,154.13"/>
<polyline fill="none" stroke="#161616" stroke-width="1.15" stroke-dasharray="2.2,1.4" points="397.15,154.72 397.4,154.62 397.65,154.48 397.9,154.3 398.15,154.05 398.4,153.74 398.65,153.35 398.9,152.88 399.15,152.3 399.4,151.63 399.65,150.86 399.9,149.98 400.15,149 400.4,147.93 400.65,146.79 400.9,145.6 401.15,144.38 401.4,143.16 401.65,141.97 401.9,140.85 402.15,139.84 402.4,138.96 402.65,138.25 402.9,137.73 403.15,137.44 403.4,137.36 403.65,137.52 403.9,137.91 404.15,138.51 404.4,139.31 404.65,140.27 404.9,141.37 405.15,142.58 405.4,143.85 405.65,145.16 405.9,146.46 406.15,147.74 406.4,148.96 406.65,150.11 406.9,151.17 407.15,152.13 407.4,152.99 407.65,153.75 407.9,154.41 408.15,154.97 408.4,155.45 408.65,155.84 408.9,156.17 409.15,156.44 409.4,156.67 409.65,156.85"/>
<polyline fill="none" stroke="#161616" stroke-width="1.15" stroke-dasharray="2.2,1.4" points="403.4,133.27 403.65,131.77 403.9,130 404.15,127.96 404.4,125.62 404.65,122.78 404.9,118.88 405.15,114.43 405.4,110 405.65,105.52 405.9,100.9 406.15,96.73 406.4,93.37 406.65,90.5 406.9,87.89 407.15,85.3 407.4,82.52 407.65,79.31 407.9,75.5 408.15,71.2 408.4,66.64 408.65,62.03 408.9,57.58 409.15,53.5 409.4,50 409.65,46.68 409.9,43.24 410.15,40.06 410.4,37.51 410.65,35.98 410.9,35.82 411.15,37.09 411.4,39.44 411.65,42.51 411.9,45.94 412.15,49.35 412.4,52.77 412.65,56.74 412.9,61.14 413.15,65.81 413.4,70.61 413.65,75.39 413.9,80 414.15,84.46 414.4,88.93 414.65,93.46 414.9,98.1 415.15,102.94 415.4,107.98 415.65,113.12 415.9,118.55 416.15,123.77 416.4,128.2 416.65,131.92 416.9,135.35 417.15,138.41 417.4,141.05 417.65,143.19 417.9,145.03 418.15,146.69 418.4,148.17 418.65,149.48 418.9,150.61 419.15,151.58 419.4,152.47 419.65,153.31 419.9,154.07 420.15,154.76 420.4,155.35 420.65,155.83 420.9,156.2 421.15,156.49 421.4,156.76 421.65,157.02 421.9,157.25 422.15,157.46 422.4,157.66 422.65,157.83 422.9,157.98 423.15,158.12 423.4,158.23 423.65,158.33 423.9,158.4 424.15,158.46 424.4,158.52 424.65,158.58 424.9,158.63 425.15,158.68 425.4,158.72 425.65,158.77 425.9,158.81 426.15,158.85 426.4,158.89 426.65,158.92 426.9,158.95 427.15,158.99 427.4,159.02 427.65,159.04 427.9,159.07 428.15,159.1 428.4,159.12 428.65,159.15 428.9,159.17 429.15,159.2 429.4,159.22 429.65,159.25 429.9,159.27 430.15,159.29 430.4,159.32 430.65,159.34 430.9,159.37 431.15,159.39 431.4,159.42 431.65,159.45 431.9,159.48"/>
<polyline fill="none" stroke="#161616" stroke-width="1.15" stroke-dasharray="2.2,1.4" points="354.15,294.84 354.4,294.74 354.65,294.6 354.9,294.41 355.15,294.19 355.4,293.94 355.65,293.65 355.9,293.33 356.15,293 356.4,292.64 356.65,292.27 356.9,291.82 357.15,291.26 357.4,290.6 357.65,289.86 357.9,289.05 358.15,288.2 358.4,287.31 358.65,286.41 358.9,285.49 359.15,284.51 359.4,283.46 359.65,282.36 359.9,281.2 360.15,280.01 360.4,278.79 360.65,277.57 360.9,276.34 361.15,275.1 361.4,273.74 361.65,272.32 361.9,270.89 362.15,269.53 362.4,268.31 362.65,267.28 362.9,266.42 363.15,265.56 363.4,264.72 363.65,263.93 363.9,263.23 364.15,262.64 364.4,262.2 364.65,261.94 364.9,261.89 365.15,262.03 365.4,262.3 365.65,262.7 365.9,263.21 366.15,263.81 366.4,264.49 366.65,265.25 366.9,266.06 367.15,266.93 367.4,268.01 367.65,269.29 367.9,270.72 368.15,272.24 368.4,273.78 368.65,275.28 368.9,276.73 369.15,278.22 369.4,279.78 369.65,281.37 369.9,282.94 370.15,284.46 370.4,285.88 370.65,287.19 370.9,288.37 371.15,289.4 371.4,290.28 371.65,291.03 371.9,291.67 372.15,292.2 372.4,292.64 372.65,293.02 372.9,293.32 373.15,293.56 373.4,293.76 373.65,293.91 373.9,294.05 374.15,294.16 374.4,294.26 374.65,294.34 374.9,294.41 375.15,294.46 375.4,294.51 375.65,294.54 375.9,294.57 376.15,294.59 376.4,294.61 376.65,294.64 376.9,294.66 377.15,294.68 377.4,294.69 377.65,294.7 377.9,294.71 378.15,294.72 378.4,294.73 378.65,294.74 378.9,294.75 379.15,294.75 379.4,294.75 379.65,294.75 379.9,294.76 380.15,294.76 380.4,294.77 380.65,294.78 380.9,294.79 381.15,294.8 381.4,294.8 381.65,294.8 381.9,294.8 382.15,294.81 382.4,294.82 382.65,294.84 382.9,294.87 383.15,294.89 383.4,294.92 383.65,294.95 383.9,294.98 384.15,295"/>
<polyline fill="none" stroke="#161616" stroke-width="1.15" stroke-dasharray="2.2,1.4" points="385.15,295.02 385.4,295.03 385.65,295.04 385.9,295.06 386.15,295.07 386.4,295.08 386.65,295.09 386.9,295.1 387.15,295.11 387.4,295.11 387.65,295.12 387.9,295.13"/>
<polyline fill="none" stroke="#161616" stroke-width="1.15" stroke-dasharray="2.2,1.4" points="356.15,294.98 356.4,294.96 356.65,294.95 356.9,294.93 357.15,294.91 357.4,294.89 357.65,294.87 357.9,294.86 358.15,294.85 358.4,294.84 358.65,294.84 358.9,294.84 359.15,294.84 359.4,294.84 359.65,294.84 359.9,294.84 360.15,294.84 360.4,294.84 360.65,294.84 360.9,294.84 361.15,294.84 361.4,294.84 361.65,294.83 361.9,294.82 362.15,294.81 362.4,294.8 362.65,294.79 362.9,294.78 363.15,294.77 363.4,294.75 363.65,294.73 363.9,294.7 364.15,294.66 364.4,294.62 364.65,294.57 364.9,294.51 365.15,294.44 365.4,294.35 365.65,294.25 365.9,294.12 366.15,293.96 366.4,293.76 366.65,293.52 366.9,293.23 367.15,292.87 367.4,292.45 367.65,291.97 367.9,291.41 368.15,290.76 368.4,290.01 368.65,289.14 368.9,288.13 369.15,287 369.4,285.8 369.65,284.55 369.9,283.28 370.15,282.02 370.4,280.8 370.65,279.63 370.9,278.52 371.15,277.48 371.4,276.47 371.65,275.51 371.9,274.6 372.15,273.74 372.4,272.96 372.65,272.25 372.9,271.56 373.15,270.8 373.4,270.02 373.65,269.3 373.9,268.7 374.15,268.29 374.4,268.15 374.65,268.19 374.9,268.36 375.15,268.64 375.4,269.01 375.65,269.44 375.9,269.92 376.15,270.48 376.4,271.33 376.65,272.4 376.9,273.61 377.15,274.89 377.4,276.16 377.65,277.32 377.9,278.49 378.15,279.69 378.4,280.91 378.65,282.1 378.9,283.23 379.15,284.28 379.4,285.22 379.65,286.13 379.9,287.03 380.15,287.89 380.4,288.71 380.65,289.47 380.9,290.15 381.15,290.74 381.4,291.23 381.65,291.63 381.9,292.01 382.15,292.37 382.4,292.72 382.65,293.04 382.9,293.33 383.15,293.6 383.4,293.83 383.65,294.03 383.9,294.2 384.15,294.33 384.4,294.42 384.65,294.47 384.9,294.49 385.15,294.5 385.4,294.51 385.65,294.52 385.9,294.52 386.15,294.53 386.4,294.53 386.65,294.53 386.9,294.53 387.15,294.53 387.4,294.52 387.65,294.51 387.9,294.5"/>
<polyline fill="none" stroke="#161616" stroke-width="1.15" stroke-dasharray="2.2,1.4" points="388.15,293.93 388.4,293.89 388.65,293.85 388.9,293.8 389.15,293.75 389.4,293.7 389.65,293.61 389.9,293.47 390.15,293.27 390.4,293.02 390.65,292.73 390.9,292.41 391.15,292.06 391.4,291.68 391.65,291.29 391.9,290.89 392.15,290.48 392.4,290.04 392.65,289.49 392.9,288.85 393.15,288.17 393.4,287.46 393.65,286.75 393.9,286.07 394.15,285.44 394.4,284.9 394.65,284.39 394.9,283.88 395.15,283.37 395.4,282.92 395.65,282.53 395.9,282.24 396.15,282.08 396.4,281.97 396.65,281.88 396.9,281.81 397.15,281.75 397.4,281.69 397.65,281.66 397.9,281.78 398.15,282.03 398.4,282.4 398.65,282.89 398.9,283.48 399.15,284.15 399.4,284.91 399.65,285.71 399.9,286.56 400.15,287.44 400.4,288.33 400.65,289.2 400.9,290.06 401.15,290.89 401.4,291.68 401.65,292.43 401.9,293.12 402.15,293.75 402.4,294.33 402.65,294.84 402.9,295.3 403.15,295.71 403.4,296.07 403.65,296.38 403.9,296.64 404.15,296.87 404.4,297.07 404.65,297.23 404.9,297.37 405.15,297.49"/>
<polyline fill="none" stroke="#161616" stroke-width="1.15" stroke-dasharray="2.2,1.4" points="400.9,280.56 401.15,280.06 401.4,279.41 401.65,278.65 401.9,277.81 402.15,276.91 402.4,275.77 402.65,274.33 402.9,272.61 403.15,270.67 403.4,268.47 403.65,265.63 403.9,262.28 404.15,258.65 404.4,255 404.65,251.32 404.9,247.47 405.15,243.47 405.4,239.36 405.65,235.15 405.9,230.68 406.15,226.06 406.4,221.53 406.65,217.25 406.9,212.98 407.15,208.77 407.4,204.7 407.65,200.86 407.9,197.31 408.15,193.96 408.4,190.32 408.65,186.99 408.9,184.66 409.15,184.04 409.4,185.21 409.65,187.63 409.9,190.78 410.15,194.12 410.4,197.22 410.65,200.56 410.9,204.23 411.15,208.1 411.4,212.06 411.65,216 411.9,219.8 412.15,223.41 412.4,226.94 412.65,230.54 412.9,234.37 413.15,238.67 413.4,243.66 413.65,248.78 413.9,253.42 414.15,257.16 414.4,260.54 414.65,263.64 414.9,266.5 415.15,269.14 415.4,271.6 415.65,273.87 415.9,275.98 416.15,277.94 416.4,279.82 416.65,281.64 416.9,283.44 417.15,285.27 417.4,287.19 417.65,289.11 417.9,290.88 418.15,292.35 418.4,293.54 418.65,294.68 418.9,295.73 419.15,296.66 419.4,297.42 419.65,297.98 419.9,298.31 420.15,298.58 420.4,298.82 420.65,299.04 420.9,299.23 421.15,299.4"/>
<polyline fill="none" stroke="#e05454" stroke-width="0.95" points="350.65,161.42 350.9,161.41 351.15,161.41 351.4,161.4 351.65,161.4 351.9,161.38 352.15,161.33 352.4,161.27 352.65,161.18 352.9,161.08 353.15,160.95 353.4,160.82 353.65,160.66 353.9,160.5 354.15,160.32 354.4,160.14 354.65,159.94 354.9,159.74 355.15,159.53 355.4,159.31 355.65,159.09 355.9,158.88 356.15,158.66 356.4,158.42 356.65,158.15 356.9,157.86 357.15,157.54 357.4,157.19 357.65,156.82 357.9,156.42 358.15,156 358.4,155.56 358.65,155.09 358.9,154.6 359.15,154.02 359.4,153.38 359.65,152.66 359.9,151.9 360.15,151.09 360.4,150.26 360.65,149.4 360.9,148.54 361.15,147.68 361.4,146.76 361.65,145.81 361.9,144.82 362.15,143.8 362.4,142.76 362.65,141.71 362.9,140.64 363.15,139.51 363.4,138.36 363.65,137.19 363.9,136.03 364.15,134.89 364.4,133.8 364.65,132.68 364.9,131.5 365.15,130.33 365.4,129.24 365.65,128.31 365.9,127.6 366.15,127.14 366.4,126.72 366.65,126.38 366.9,126.16 367.15,126.1 367.4,126.21 367.65,126.44 367.9,126.77 368.15,127.17 368.4,127.62 368.65,128.09 368.9,128.55 369.15,128.97 369.4,129.35 369.65,129.76 369.9,130.22 370.15,130.7 370.4,131.18 370.65,131.66 370.9,132.11 371.15,132.51 371.4,132.85 371.65,133.1 371.9,133.26 372.15,133.3 372.4,133.2 372.65,133 372.9,132.73 373.15,132.41 373.4,132.09 373.65,131.8 373.9,131.57 374.15,131.43 374.4,131.4 374.65,131.4 374.9,131.4 375.15,131.4 375.4,131.4 375.65,131.4 375.9,131.4 376.15,131.4 376.4,131.4 376.65,131.44 376.9,131.68 377.15,132.1 377.4,132.65 377.65,133.31 377.9,134.02 378.15,134.75 378.4,135.59 378.65,136.69 378.9,137.97 379.15,139.35 379.4,140.73 379.65,142.01 379.9,143.14 380.15,144.24 380.4,145.33 380.65,146.39 380.9,147.39 381.15,148.28 381.4,149.04 381.65,149.67 381.9,150.27 382.15,150.84 382.4,151.37 382.65,151.86 382.9,152.3 383.15,152.66 383.4,152.96 383.65,153.17 383.9,153.32 384.15,153.45 384.4,153.58 384.65,153.7 384.9,153.82 385.15,153.92 385.4,154.01 385.65,154.09 385.9,154.16 386.15,154.21 386.4,154.26 386.65,154.29 386.9,154.3 387.15,154.3 387.4,154.29 387.65,154.27 387.9,154.25 388.15,154.21 388.4,154.17 388.65,154.13 388.9,154.08 389.15,154.02 389.4,153.96 389.65,153.9 389.9,153.84 390.15,153.77 390.4,153.7 390.65,153.62 390.9,153.51 391.15,153.39 391.4,153.24 391.65,153.08 391.9,152.91 392.15,152.72 392.4,152.53 392.65,152.33 392.9,152.13 393.15,151.93 393.4,151.73 393.65,151.54 393.9,151.35 394.15,151.15 394.4,150.96 394.65,150.75 394.9,150.54 395.15,150.33 395.4,150.1 395.65,149.86 395.9,149.61 396.15,149.34 396.4,149.05 396.65,148.75 396.9,148.44 397.15,148.11 397.4,147.77 397.65,147.41 397.9,147.05 398.15,146.67 398.4,146.28 398.65,145.88 398.9,145.47 399.15,145.05 399.4,144.62 399.65,144.17 399.9,143.71 400.15,143.22 400.4,142.71 400.65,142.18 400.9,141.62 401.15,141.03 401.4,140.4 401.65,139.74 401.9,139.05 402.15,138.31 402.4,137.51 402.65,136.62 402.9,135.64 403.15,134.54 403.4,133.27 403.65,131.77 403.9,130 404.15,127.96 404.4,125.62 404.65,122.78 404.9,118.88 405.15,114.43 405.4,110 405.65,105.52 405.9,100.9 406.15,96.73 406.4,93.37 406.65,90.5 406.9,87.89 407.15,85.3 407.4,82.52 407.65,79.31 407.9,75.5 408.15,71.2 408.4,66.64 408.65,62.03 408.9,57.58 409.15,53.5 409.4,50 409.65,46.68 409.9,43.24 410.15,40.06 410.4,37.51 410.65,35.98 410.9,35.82 411.15,37.09 411.4,39.44 411.65,42.51 411.9,45.94 412.15,49.35 412.4,52.77 412.65,56.74 412.9,61.14 413.15,65.81 413.4,70.61 413.65,75.39 413.9,80 414.15,84.46 414.4,88.93 414.65,93.46 414.9,98.1 415.15,102.94 415.4,107.98 415.65,113.12 415.9,118.55 416.15,123.77 416.4,128.2 416.65,131.92 416.9,135.35 417.15,138.41 417.4,141.05 417.65,143.19 417.9,145.03 418.15,146.69 418.4,148.17 418.65,149.48 418.9,150.61 419.15,151.58 419.4,152.47 419.65,153.31 419.9,154.07 420.15,154.76 420.4,155.35 420.65,155.83 420.9,156.2 421.15,156.49 421.4,156.76 421.65,157.02 421.9,157.25 422.15,157.46 422.4,157.66 422.65,157.83 422.9,157.98 423.15,158.12 423.4,158.23 423.65,158.33 423.9,158.4 424.15,158.46 424.4,158.52 424.65,158.58 424.9,158.63 425.15,158.68 425.4,158.72 425.65,158.77 425.9,158.81 426.15,158.85 426.4,158.89 426.65,158.92 426.9,158.95 427.15,158.99 427.4,159.02 427.65,159.04 427.9,159.07 428.15,159.1 428.4,159.12 428.65,159.15 428.9,159.17 429.15,159.2 429.4,159.22 429.65,159.25 429.9,159.27 430.15,159.29 430.4,159.32 430.65,159.34 430.9,159.37 431.15,159.39 431.4,159.42 431.65,159.45 431.9,159.48 432.15,159.5 432.4,159.53 432.65,159.56 432.9,159.58 433.15,159.61 433.4,159.64 433.65,159.66 433.9,159.69 434.15,159.71 434.4,159.74 434.65,159.77 434.9,159.79 435.15,159.82 435.4,159.84 435.65,159.87 435.9,159.89 436.15,159.92 436.4,159.94 436.65,159.96 436.9,159.99 437.15,160.01 437.4,160.04 437.65,160.06 437.9,160.08 438.15,160.1 438.4,160.13 438.65,160.15 438.9,160.17 439.15,160.19 439.4,160.21 439.65,160.23 439.9,160.26 440.15,160.28 440.4,160.3 440.65,160.32 440.9,160.34 441.15,160.35 441.4,160.37 441.65,160.39 441.9,160.41 442.15,160.43 442.4,160.44 442.65,160.46 442.9,160.48 443.15,160.49 443.4,160.51 443.65,160.52 443.9,160.54 444.15,160.55 444.4,160.57 444.65,160.58 444.9,160.59 445.15,160.61 445.4,160.62 445.65,160.63 445.9,160.65 446.15,160.66 446.4,160.67 446.65,160.68 446.9,160.7 447.15,160.71 447.4,160.72 447.65,160.74 447.9,160.75 448.15,160.76 448.4,160.77 448.65,160.79 448.9,160.8 449.15,160.81 449.4,160.82 449.65,160.84 449.9,160.85 450.15,160.86 450.4,160.87 450.65,160.88 450.9,160.89 451.15,160.91 451.4,160.92 451.65,160.93 451.9,160.94 452.15,160.95 452.4,160.96 452.65,160.97 452.9,160.98 453.15,160.99 453.4,161 453.65,161.01 453.9,161.02 454.15,161.03 454.4,161.04 454.65,161.05 454.9,161.06 455.15,161.07 455.4,161.08 455.65,161.09 455.9,161.1 456.15,161.1 456.4,161.11 456.65,161.12 456.9,161.12 457.15,161.13 457.4,161.14 457.65,161.14 457.9,161.15 458.15,161.16 458.4,161.16 458.65,161.17 458.9,161.17 459.15,161.18 459.4,161.18 459.65,161.18 459.9,161.19 460.15,161.19 460.4,161.19 460.65,161.19 460.9,161.2 461.15,161.2 461.4,161.2 461.65,161.2 461.9,161.2 462.15,161.2 462.4,161.2 462.65,161.19 462.9,161.18 463.15,161.16 463.4,161.14 463.65,161.12 463.9,161.1 464.15,161.07 464.4,161.04 464.65,161.01 464.9,160.98 465.15,160.94 465.4,160.9 465.65,160.86 465.9,160.82 466.15,160.77 466.4,160.68 466.65,160.57 466.9,160.42 467.15,160.25 467.4,160.05 467.65,159.84 467.9,159.61 468.15,159.37 468.4,159.12 468.65,158.86 468.9,158.6 469.15,158.34 469.4,158.08 469.65,157.83 469.9,157.59 470.15,157.36 470.4,157.11 470.65,156.84 470.9,156.56 471.15,156.28 471.4,155.99 471.65,155.71 471.9,155.44 472.15,155.19 472.4,154.95 472.65,154.74 472.9,154.56 473.15,154.41 473.4,154.26 473.65,154.11 473.9,153.97 474.15,153.83 474.4,153.71 474.65,153.6 474.9,153.52 475.15,153.45 475.4,153.41 475.65,153.4 475.9,153.43 476.15,153.51 476.4,153.62 476.65,153.75 476.9,153.92 477.15,154.1 477.4,154.3 477.65,154.51 477.9,154.72 478.15,154.92 478.4,155.12 478.65,155.32 478.9,155.53 479.15,155.77 479.4,156.02 479.65,156.28 479.9,156.55 480.15,156.83 480.4,157.1 480.65,157.37 480.9,157.64 481.15,157.89 481.4,158.12 481.65,158.34 481.9,158.53 482.15,158.7 482.4,158.86 482.65,159.03 482.9,159.19 483.15,159.34 483.4,159.49 483.65,159.64 483.9,159.78 484.15,159.91 484.4,160.04 484.65,160.15 484.9,160.26 485.15,160.36 485.4,160.44 485.65,160.52 485.9,160.58 486.15,160.63 486.4,160.68 486.65,160.73 486.9,160.77 487.15,160.81 487.4,160.86 487.65,160.89 487.9,160.93 488.15,160.96 488.4,160.99 488.65,161.02 488.9,161.04 489.15,161.06 489.4,161.08 489.65,161.09 489.9,161.1 490.15,161.1 490.4,161.1 490.65,161.11 490.9,161.11 491.15,161.11 491.4,161.12 491.65,161.12 491.9,161.12 492.15,161.12 492.4,161.13 492.65,161.13 492.9,161.13 493.15,161.13 493.4,161.14 493.65,161.14 493.9,161.14 494.15,161.14 494.4,161.15 494.65,161.15 494.9,161.15 495.15,161.15 495.4,161.16 495.65,161.16 495.9,161.16 496.15,161.16 496.4,161.17 496.65,161.17 496.9,161.17 497.15,161.17 497.4,161.18 497.65,161.18 497.9,161.18 498.15,161.18 498.4,161.18 498.65,161.19 498.9,161.19 499.15,161.19 499.4,161.19 499.65,161.19 499.9,161.2 500.15,161.2 500.4,161.2 500.65,161.2 500.9,161.2 501.15,161.2 501.4,161.21 501.65,161.21 501.9,161.21 502.15,161.21 502.4,161.21 502.65,161.22 502.9,161.22 503.15,161.22 503.4,161.22 503.65,161.22 503.9,161.22 504.15,161.23 504.4,161.23 504.65,161.23 504.9,161.23 505.15,161.23 505.4,161.23 505.65,161.23 505.9,161.24 506.15,161.24 506.4,161.24 506.65,161.24 506.9,161.24 507.15,161.24 507.4,161.24 507.65,161.24 507.9,161.25 508.15,161.25 508.4,161.25 508.65,161.25 508.9,161.25 509.15,161.25 509.4,161.25 509.65,161.25 509.9,161.26 510.15,161.26 510.4,161.26 510.65,161.26 510.9,161.26 511.15,161.26 511.4,161.26 511.65,161.26 511.9,161.26 512.15,161.26 512.4,161.27 512.65,161.27 512.9,161.27 513.15,161.27 513.4,161.27 513.65,161.27 513.9,161.27 514.15,161.27 514.4,161.27 514.65,161.27 514.9,161.27 515.15,161.28 515.4,161.28 515.65,161.28 515.9,161.28 516.15,161.28 516.4,161.28 516.65,161.28 516.9,161.28 517.15,161.28 517.4,161.28 517.65,161.28 517.9,161.28 518.15,161.28 518.4,161.28 518.65,161.28 518.9,161.29 519.15,161.29 519.4,161.29 519.65,161.29 519.9,161.29 520.15,161.29 520.4,161.29 520.65,161.29 520.9,161.29 521.15,161.29 521.4,161.29 521.65,161.29 521.9,161.29 522.15,161.29 522.4,161.29 522.65,161.29 522.9,161.29 523.15,161.29 523.4,161.29 523.65,161.29 523.9,161.29 524.15,161.29 524.4,161.29 524.65,161.29 524.9,161.3 525.15,161.3 525.4,161.3 525.65,161.3 525.9,161.3 526.15,161.3 526.4,161.3 526.65,161.3 526.9,161.3 527.15,161.3 527.4,161.3 527.65,161.3 527.9,161.3 528.15,161.3 528.4,161.3 528.65,161.3 528.9,161.3 529.15,161.3 529.4,161.3 529.65,161.3 529.9,161.3 530.15,161.3 530.4,161.3 530.65,161.3 530.9,161.3 531.15,161.3 531.4,161.3 531.65,161.3 531.9,161.3 532.15,161.3 532.4,161.3 532.65,161.3 532.9,161.3 533.15,161.3 533.4,161.3 533.65,161.3 533.9,161.3 534.15,161.3 534.4,161.3"/>
<polyline fill="none" stroke="#e05454" stroke-width="0.95" points="338.9,294.3 339.15,294.32 339.4,294.35 339.65,294.37 339.9,294.39 340.15,294.42 340.4,294.44 340.65,294.46 340.9,294.48 341.15,294.49 341.4,294.51 341.65,294.53 341.9,294.55 342.15,294.56 342.4,294.58 342.65,294.59 342.9,294.6 343.15,294.62 343.4,294.63 343.65,294.64 343.9,294.65 344.15,294.66 344.4,294.67 344.65,294.68 344.9,294.69 345.15,294.7 345.4,294.71 345.65,294.72 345.9,294.73 346.15,294.73 346.4,294.74 346.65,294.74 346.9,294.75 347.15,294.76 347.4,294.76 347.65,294.76 347.9,294.77 348.15,294.77 348.4,294.78 348.65,294.78 348.9,294.78 349.15,294.78 349.4,294.79 349.65,294.79 349.9,294.79 350.15,294.79 350.4,294.79 350.65,294.8 350.9,294.8 351.15,294.8 351.4,294.8 351.65,294.8 351.9,294.8 352.15,294.8 352.4,294.8 352.65,294.8 352.9,294.8 353.15,294.8 353.4,294.8 353.65,294.8 353.9,294.79 354.15,294.74 354.4,294.62 354.65,294.46 354.9,294.24 355.15,293.99 355.4,293.7 355.65,293.38 355.9,293.04 356.15,292.68 356.4,292.3 356.65,291.92 356.9,291.45 357.15,290.87 357.4,290.19 357.65,289.43 357.9,288.61 358.15,287.75 358.4,286.85 358.65,285.94 358.9,285.03 359.15,284.05 359.4,283 359.65,281.9 359.9,280.74 360.15,279.55 360.4,278.34 360.65,277.11 360.9,275.89 361.15,274.64 361.4,273.28 361.65,271.85 361.9,270.41 362.15,269.04 362.4,267.81 362.65,266.78 362.9,265.91 363.15,265.03 363.4,264.17 363.65,263.36 363.9,262.63 364.15,262.01 364.4,261.52 364.65,261.21 364.9,261.1 365.15,261.17 365.4,261.36 365.65,261.65 365.9,262.03 366.15,262.47 366.4,262.95 366.65,263.47 366.9,263.99 367.15,264.51 367.4,265.16 367.65,265.95 367.9,266.83 368.15,267.7 368.4,268.49 368.65,269.12 368.9,269.55 369.15,269.93 369.4,270.29 369.65,270.62 369.9,270.92 370.15,271.18 370.4,271.38 370.65,271.52 370.9,271.59 371.15,271.58 371.4,271.45 371.65,271.24 371.9,270.96 372.15,270.64 372.4,270.3 372.65,269.96 372.9,269.58 373.15,269.06 373.4,268.48 373.65,267.91 373.9,267.44 374.15,267.15 374.4,267.11 374.65,267.23 374.9,267.47 375.15,267.81 375.4,268.22 375.65,268.69 375.9,269.19 376.15,269.77 376.4,270.64 376.65,271.73 376.9,272.97 377.15,274.27 377.4,275.55 377.65,276.73 377.9,277.9 378.15,279.12 378.4,280.34 378.65,281.54 378.9,282.68 379.15,283.73 379.4,284.67 379.65,285.58 379.9,286.48 380.15,287.35 380.4,288.18 380.65,288.95 380.9,289.64 381.15,290.24 381.4,290.73 381.65,291.13 381.9,291.51 382.15,291.88 382.4,292.24 382.65,292.58 382.9,292.9 383.15,293.19 383.4,293.45 383.65,293.68 383.9,293.87 384.15,294.03 384.4,294.13 384.65,294.19 384.9,294.2 385.15,294.2 385.4,294.19 385.65,294.18 385.9,294.17 386.15,294.16 386.4,294.14 386.65,294.12 386.9,294.09 387.15,294.07 387.4,294.04 387.65,294.01 387.9,293.97 388.15,293.93 388.4,293.89 388.65,293.85 388.9,293.8 389.15,293.75 389.4,293.7 389.65,293.61 389.9,293.47 390.15,293.27 390.4,293.02 390.65,292.73 390.9,292.41 391.15,292.06 391.4,291.68 391.65,291.29 391.9,290.89 392.15,290.48 392.4,290.04 392.65,289.49 392.9,288.85 393.15,288.17 393.4,287.46 393.65,286.75 393.9,286.07 394.15,285.44 394.4,284.9 394.65,284.39 394.9,283.88 395.15,283.37 395.4,282.92 395.65,282.53 395.9,282.24 396.15,282.08 396.4,281.97 396.65,281.88 396.9,281.81 397.15,281.75 397.4,281.69 397.65,281.64 397.9,281.59 398.15,281.54 398.4,281.48 398.65,281.43 398.9,281.38 399.15,281.34 399.4,281.3 399.65,281.26 399.9,281.2 400.15,281.13 400.4,281.04 400.65,280.9 400.9,280.56 401.15,280.06 401.4,279.41 401.65,278.65 401.9,277.81 402.15,276.91 402.4,275.77 402.65,274.33 402.9,272.61 403.15,270.67 403.4,268.47 403.65,265.63 403.9,262.28 404.15,258.65 404.4,255 404.65,251.32 404.9,247.47 405.15,243.47 405.4,239.36 405.65,235.15 405.9,230.68 406.15,226.06 406.4,221.53 406.65,217.25 406.9,212.98 407.15,208.77 407.4,204.7 407.65,200.86 407.9,197.31 408.15,193.96 408.4,190.32 408.65,186.99 408.9,184.66 409.15,184.04 409.4,185.21 409.65,187.63 409.9,190.78 410.15,194.12 410.4,197.22 410.65,200.56 410.9,204.23 411.15,208.1 411.4,212.06 411.65,216 411.9,219.8 412.15,223.41 412.4,226.94 412.65,230.54 412.9,234.37 413.15,238.67 413.4,243.66 413.65,248.78 413.9,253.42 414.15,257.16 414.4,260.54 414.65,263.64 414.9,266.5 415.15,269.14 415.4,271.6 415.65,273.87 415.9,275.98 416.15,277.94 416.4,279.82 416.65,281.64 416.9,283.44 417.15,285.27 417.4,287.19 417.65,289.11 417.9,290.88 418.15,292.35 418.4,293.54 418.65,294.68 418.9,295.73 419.15,296.66 419.4,297.42 419.65,297.98 419.9,298.31 420.15,298.58 420.4,298.82 420.65,299.04 420.9,299.23 421.15,299.4 421.4,299.55 421.65,299.68 421.9,299.79 422.15,299.88 422.4,299.95 422.65,300.01 422.9,300.06 423.15,300.11 423.4,300.15 423.65,300.2 423.9,300.24 424.15,300.28 424.4,300.32 424.65,300.36 424.9,300.4 425.15,300.44 425.4,300.47 425.65,300.5 425.9,300.54 426.15,300.57 426.4,300.6 426.65,300.63 426.9,300.66 427.15,300.68 427.4,300.71 427.65,300.73 427.9,300.76 428.15,300.78 428.4,300.8 428.65,300.83 428.9,300.85 429.15,300.87 429.4,300.89 429.65,300.91 429.9,300.92 430.15,300.94 430.4,300.96 430.65,300.97 430.9,300.99 431.15,301.01 431.4,301.02 431.65,301.04 431.9,301.05 432.15,301.06 432.4,301.08 432.65,301.09 432.9,301.1 433.15,301.12 433.4,301.13 433.65,301.14 433.9,301.15 434.15,301.17 434.4,301.18 434.65,301.19 434.9,301.21 435.15,301.22 435.4,301.23 435.65,301.24 435.9,301.25 436.15,301.27 436.4,301.28 436.65,301.29 436.9,301.3 437.15,301.31 437.4,301.32 437.65,301.34 437.9,301.35 438.15,301.36 438.4,301.37 438.65,301.38 438.9,301.39 439.15,301.4 439.4,301.41 439.65,301.42 439.9,301.43 440.15,301.44 440.4,301.45 440.65,301.46 440.9,301.47 441.15,301.48 441.4,301.49 441.65,301.5 441.9,301.51 442.15,301.51 442.4,301.52 442.65,301.53 442.9,301.54 443.15,301.55 443.4,301.56 443.65,301.56 443.9,301.57 444.15,301.58 444.4,301.59 444.65,301.59 444.9,301.6 445.15,301.61 445.4,301.61 445.65,301.62 445.9,301.63 446.15,301.63 446.4,301.64 446.65,301.64 446.9,301.65 447.15,301.65 447.4,301.66 447.65,301.66 447.9,301.67 448.15,301.67 448.4,301.68 448.65,301.68 448.9,301.69 449.15,301.69 449.4,301.69 449.65,301.7 449.9,301.7 450.15,301.7 450.4,301.7 450.65,301.71 450.9,301.71 451.15,301.71 451.4,301.72 451.65,301.72 451.9,301.72 452.15,301.72 452.4,301.73 452.65,301.73 452.9,301.73 453.15,301.73 453.4,301.74 453.65,301.74 453.9,301.74 454.15,301.75 454.4,301.75 454.65,301.75 454.9,301.75 455.15,301.75 455.4,301.76 455.65,301.76 455.9,301.76 456.15,301.76 456.4,301.77 456.65,301.77 456.9,301.77 457.15,301.77 457.4,301.77 457.65,301.78 457.9,301.78 458.15,301.78 458.4,301.78 458.65,301.78 458.9,301.78 459.15,301.79 459.4,301.79 459.65,301.79 459.9,301.79 460.15,301.79 460.4,301.79 460.65,301.79 460.9,301.79 461.15,301.79 461.4,301.8 461.65,301.8 461.9,301.8 462.15,301.8 462.4,301.8 462.65,301.8 462.9,301.8 463.15,301.8 463.4,301.8 463.65,301.8 463.9,301.8 464.15,301.8 464.4,301.77 464.65,301.71 464.9,301.63 465.15,301.53 465.4,301.42 465.65,301.28 465.9,301.13 466.15,300.96 466.4,300.79 466.65,300.6 466.9,300.4 467.15,300.2 467.4,300 467.65,299.79 467.9,299.58 468.15,299.37 468.4,299.12 468.65,298.83 468.9,298.5 469.15,298.16 469.4,297.79 469.65,297.4 469.9,297 470.15,296.6 470.4,296.19 470.65,295.78 470.9,295.39 471.15,295 471.4,294.64 471.65,294.28 471.9,293.89 472.15,293.47 472.4,293.03 472.65,292.58 472.9,292.15 473.15,291.74 473.4,291.37 473.65,291.04 473.9,290.78 474.15,290.6 474.4,290.51 474.65,290.52 474.9,290.61 475.15,290.77 475.4,291 475.65,291.29 475.9,291.61 476.15,291.97 476.4,292.34 476.65,292.73 476.9,293.12 477.15,293.5 477.4,293.86 477.65,294.21 477.9,294.59 478.15,295 478.4,295.43 478.65,295.88 478.9,296.34 479.15,296.8 479.4,297.26 479.65,297.7 479.9,298.12 480.15,298.51 480.4,298.86 480.65,299.16 480.9,299.42 481.15,299.62 481.4,299.81 481.65,300.01 481.9,300.19 482.15,300.37 482.4,300.55 482.65,300.71 482.9,300.87 483.15,301.01 483.4,301.14 483.65,301.26 483.9,301.36 484.15,301.44 484.4,301.51 484.65,301.56 484.9,301.59 485.15,301.61 485.4,301.62 485.65,301.63 485.9,301.64 486.15,301.65 486.4,301.66 486.65,301.67 486.9,301.68 487.15,301.69 487.4,301.7 487.65,301.71 487.9,301.72 488.15,301.72 488.4,301.73 488.65,301.74 488.9,301.75 489.15,301.75 489.4,301.76 489.65,301.77 489.9,301.77 490.15,301.78 490.4,301.79 490.65,301.79 490.9,301.8 491.15,301.8 491.4,301.81 491.65,301.81 491.9,301.82 492.15,301.82 492.4,301.83 492.65,301.83 492.9,301.83 493.15,301.84 493.4,301.84 493.65,301.85 493.9,301.85 494.15,301.85 494.4,301.85 494.65,301.86 494.9,301.86 495.15,301.86 495.4,301.87 495.65,301.87 495.9,301.87 496.15,301.87 496.4,301.88 496.65,301.88 496.9,301.88 497.15,301.88 497.4,301.88 497.65,301.89 497.9,301.89 498.15,301.89 498.4,301.89 498.65,301.89 498.9,301.89 499.15,301.9 499.4,301.9 499.65,301.9 499.9,301.9 500.15,301.9 500.4,301.9 500.65,301.9 500.9,301.91 501.15,301.91 501.4,301.91 501.65,301.91 501.9,301.91 502.15,301.91 502.4,301.91 502.65,301.91 502.9,301.92 503.15,301.92 503.4,301.92 503.65,301.92 503.9,301.92 504.15,301.92 504.4,301.92 504.65,301.92 504.9,301.93 505.15,301.93 505.4,301.93 505.65,301.93 505.9,301.93 506.15,301.93 506.4,301.93 506.65,301.93 506.9,301.94 507.15,301.94 507.4,301.94 507.65,301.94 507.9,301.94 508.15,301.94 508.4,301.94 508.65,301.94 508.9,301.94 509.15,301.95 509.4,301.95 509.65,301.95 509.9,301.95 510.15,301.95 510.4,301.95 510.65,301.95 510.9,301.95 511.15,301.95 511.4,301.95 511.65,301.96 511.9,301.96 512.15,301.96 512.4,301.96 512.65,301.96 512.9,301.96 513.15,301.96 513.4,301.96 513.65,301.96 513.9,301.96 514.15,301.96 514.4,301.97 514.65,301.97 514.9,301.97 515.15,301.97 515.4,301.97 515.65,301.97 515.9,301.97 516.15,301.97 516.4,301.97 516.65,301.97 516.9,301.97 517.15,301.97 517.4,301.97 517.65,301.98 517.9,301.98 518.15,301.98 518.4,301.98 518.65,301.98 518.9,301.98 519.15,301.98 519.4,301.98 519.65,301.98 519.9,301.98 520.15,301.98 520.4,301.98 520.65,301.98 520.9,301.98 521.15,301.98 521.4,301.99 521.65,301.99 521.9,301.99 522.15,301.99 522.4,301.99 522.65,301.99 522.9,301.99 523.15,301.99 523.4,301.99 523.65,301.99 523.9,301.99 524.15,301.99 524.4,301.99 524.65,301.99 524.9,301.99 525.15,301.99 525.4,301.99 525.65,301.99 525.9,301.99 526.15,301.99 526.4,301.99 526.65,301.99 526.9,302 527.15,302 527.4,302 527.65,302 527.9,302 528.15,302 528.4,302 528.65,302 528.9,302 529.15,302 529.4,302 529.65,302 529.9,302 530.15,302 530.4,302 530.65,302 530.9,302 531.15,302 531.4,302 531.65,302 531.9,302 532.15,302 532.4,302 532.65,302 532.9,302 533.15,302 533.4,302 533.65,302 533.9,302 534.15,302 534.4,302"/>
<text x="349.6" y="37.8" font-family="Liberation Sans, sans-serif" font-weight="bold" font-size="10" fill="#111">a.</text>
<text x="346.8" y="182.9" font-family="Liberation Sans, sans-serif" font-weight="bold" font-size="10" fill="#111">b.</text>
<line x1="429.6" y1="36.5" x2="442.7" y2="36.5" stroke="#505050" stroke-width="1.5"/>
<line x1="429.6" y1="43.3" x2="442.7" y2="43.3" stroke="#777" stroke-width="0.7" stroke-dasharray="1,0.8"/>
<line x1="429.6" y1="52.3" x2="442.7" y2="52.3" stroke="#f06868" stroke-width="1.5"/>
<text x="444.9" y="35.8" font-family="Liberation Sans, sans-serif" font-size="6.4" fill="#222" stroke="#222" stroke-width="0.15" lengthAdjust="spacing" textLength="82.8">CNCs Conventional (raw data)</text>
<text x="444.2" y="43.8" font-family="Liberation Sans, sans-serif" font-size="6.4" fill="#222" stroke="#222" stroke-width="0.15" lengthAdjust="spacing" textLength="25">Fit Peaks</text>
<text x="444.9" y="52.1" font-family="Liberation Sans, sans-serif" font-size="6.4" fill="#222" stroke="#222" stroke-width="0.15" lengthAdjust="spacing" textLength="55.2">Cumulative Fit Peak</text>
<line x1="436.3" y1="178.6" x2="449.1" y2="178.6" stroke="#505050" stroke-width="1.5"/>
<line x1="436.3" y1="185.3" x2="449.1" y2="185.3" stroke="#777" stroke-width="0.7" stroke-dasharray="1,0.8"/>
<line x1="436.3" y1="194.1" x2="449.1" y2="194.1" stroke="#f06868" stroke-width="1.5"/>
<text x="451" y="178.1" font-family="Liberation Sans, sans-serif" font-size="6.4" fill="#222" stroke="#222" stroke-width="0.15" lengthAdjust="spacing" textLength="77.3">CNCs Microwave (raw data)</text>
<text x="450.6" y="185.6" font-family="Liberation Sans, sans-serif" font-size="6.4" fill="#222" stroke="#222" stroke-width="0.15" lengthAdjust="spacing" textLength="24.3">Fit Peaks</text>
<text x="451" y="193.4" font-family="Liberation Sans, sans-serif" font-size="6.4" fill="#222" stroke="#222" stroke-width="0.15" lengthAdjust="spacing" textLength="55">Cumulative Fit Peak</text>
</svg>
</body></html>
